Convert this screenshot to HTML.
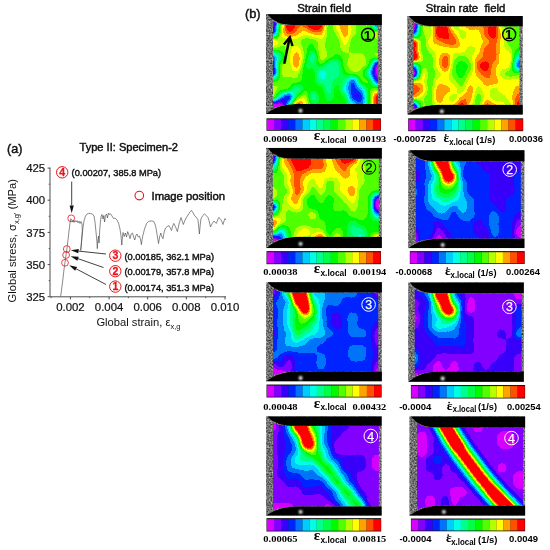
<!DOCTYPE html>
<html><head><meta charset="utf-8"><title>Figure</title>
<style>
html,body{margin:0;padding:0;background:#fff;}
body{width:550px;height:550px;overflow:hidden;}
svg{display:block;}
text{font-family:"Liberation Sans",sans-serif;}
.ser{font-family:"Liberation Serif",serif;font-weight:bold;}
.sb{stroke:#111;stroke-width:0.45px;}
.sb2{stroke:#111;stroke-width:0.4px;}
.sb3{stroke:#111;stroke-width:0.2px;}
</style></head><body>
<svg width="550" height="550" viewBox="0 0 550 550">
<defs>
<filter id="cm" x="-10%" y="-10%" width="120%" height="120%" color-interpolation-filters="sRGB">
<feGaussianBlur stdDeviation="3.2"/>
<feComponentTransfer>
<feFuncR type="discrete" tableValues="0.847 0.847 0.847 0.847 0.847 0.51 0.22 0 0 0 0 0 0 0 0.314 0.706 1 1 1 1 1 1 1 1"/>
<feFuncG type="discrete" tableValues="0 0 0 0 0 0 0 0.141 0.455 0.8 1 1 1 0.98 1 1 1 0.635 0.314 0 0 0 0 0"/>
<feFuncB type="discrete" tableValues="1 1 1 1 1 1 0.98 1 0.98 1 0.894 0.549 0.275 0 0 0 0 0 0 0 0 0 0 0"/>
<feFuncA type="linear" slope="0" intercept="1"/>
</feComponentTransfer>
<feGaussianBlur stdDeviation="0.45"/>
</filter><filter id="cm4R" x="-10%" y="-10%" width="120%" height="120%" color-interpolation-filters="sRGB">
<feGaussianBlur stdDeviation="2.6"/>
<feComponentTransfer>
<feFuncR type="discrete" tableValues="0.847 0.847 0.847 0.847 0.847 0.51 0.22 0 0 0 0 0 0 0 0.314 0.706 1 1 1 1 1 1 1 1"/>
<feFuncG type="discrete" tableValues="0 0 0 0 0 0 0 0.141 0.455 0.8 1 1 1 0.98 1 1 1 0.635 0.314 0 0 0 0 0"/>
<feFuncB type="discrete" tableValues="1 1 1 1 1 1 0.98 1 0.98 1 0.894 0.549 0.275 0 0 0 0 0 0 0 0 0 0 0"/>
<feFuncA type="linear" slope="0" intercept="1"/>
</feComponentTransfer>
<feGaussianBlur stdDeviation="0.45"/>
</filter>
<filter id="spk" x="0" y="0" width="100%" height="100%" color-interpolation-filters="sRGB">
<feTurbulence type="fractalNoise" baseFrequency="0.62" numOctaves="2" seed="7" result="n"/>
<feColorMatrix in="n" type="matrix" values="0.85 0 0 0 0.02  0.85 0 0 0 0.02  0.85 0 0 0 0.02  0 0 0 0 1"/>
<feComposite operator="in" in2="SourceGraphic"/>
</filter>
<filter id="b1" x="-100%" y="-100%" width="300%" height="300%"><feGaussianBlur stdDeviation="1.0"/></filter>
<clipPath id="fclip"><path d="M7.2,7 C10,8.2 14,9.6 20,10.5 C24,11 28,11.1 32,11.2 L111.4,11.2 L111.4,89.6 L30,89.6 C24,89.8 19,90.4 15,91.2 C12,91.8 9,92.7 7.2,93.4 Z"/></clipPath>
</defs>
<rect width="550" height="550" fill="#fff"/>

<rect x="266.0" y="14.2" width="115.8" height="99.7" fill="#808080" filter="url(#spk)"/>
<path d="M267.5,14.2 C269.0,16.0 271.0,18.1 273.0,19.6 C275.0,20.9 277.0,22.0 279.0,22.8 C283.0,24.2 288.0,24.8 294.0,25.0 L381.8,25.0 L381.8,14.2 Z" fill="#000"/>
<path d="M266.0,113.9 C268.0,112.6 270.5,111.0 273.0,109.6 C278.0,107.0 285.0,104.6 295.0,104.1 L381.8,104.1 L381.8,113.9 Z" fill="#000"/>
<clipPath id="fc1L"><path d="M273.0,21.2 C276.0,22.7 279.0,24.0 282.0,24.7 C286.0,25.3 291.0,25.3 296.0,25.3 L377.8,25.3 L377.8,103.9 L296.0,103.9 C288.0,104.1 279.0,105.7 273.0,108.0 Z"/></clipPath>
<g clip-path="url(#fc1L)"><g filter="url(#cm)"><rect x="261" y="13" width="17" height="9" fill="#2e2e2e"/><rect x="277" y="13" width="9" height="9" fill="#9c9c9c"/><rect x="285" y="13" width="9" height="9" fill="#e8e8e8"/><rect x="293" y="13" width="9" height="9" fill="#c1c1c1"/><rect x="301" y="13" width="9" height="9" fill="#c4c4c4"/><rect x="309" y="13" width="9" height="9" fill="#e2e2e2"/><rect x="317" y="13" width="9" height="9" fill="#d9d9d9"/><rect x="325" y="13" width="9" height="9" fill="#8e8e8e"/><rect x="333" y="13" width="9" height="9" fill="#b3b3b3"/><rect x="341" y="13" width="9" height="9" fill="#bebebe"/><rect x="349" y="13" width="9" height="9" fill="#a3a3a3"/><rect x="357" y="13" width="9" height="9" fill="#979797"/><rect x="365" y="13" width="9" height="9" fill="#a8a8a8"/><rect x="373" y="13" width="17" height="9" fill="#383838"/><rect x="261" y="21" width="17" height="9" fill="#2e2e2e"/><rect x="277" y="21" width="9" height="9" fill="#9c9c9c"/><rect x="285" y="21" width="9" height="9" fill="#e8e8e8"/><rect x="293" y="21" width="9" height="9" fill="#c1c1c1"/><rect x="301" y="21" width="9" height="9" fill="#c4c4c4"/><rect x="309" y="21" width="9" height="9" fill="#e2e2e2"/><rect x="317" y="21" width="9" height="9" fill="#d9d9d9"/><rect x="325" y="21" width="9" height="9" fill="#8e8e8e"/><rect x="333" y="21" width="9" height="9" fill="#b3b3b3"/><rect x="341" y="21" width="9" height="9" fill="#bebebe"/><rect x="349" y="21" width="9" height="9" fill="#a3a3a3"/><rect x="357" y="21" width="9" height="9" fill="#979797"/><rect x="365" y="21" width="9" height="9" fill="#a8a8a8"/><rect x="373" y="21" width="17" height="9" fill="#383838"/><rect x="261" y="29" width="17" height="9" fill="#373737"/><rect x="277" y="29" width="9" height="9" fill="#b0b0b0"/><rect x="285" y="29" width="9" height="9" fill="#cbcbcb"/><rect x="293" y="29" width="9" height="9" fill="#bcbcbc"/><rect x="301" y="29" width="9" height="9" fill="#acacac"/><rect x="309" y="29" width="9" height="9" fill="#bbbbbb"/><rect x="317" y="29" width="9" height="9" fill="#bfbfbf"/><rect x="325" y="29" width="9" height="9" fill="#949494"/><rect x="333" y="29" width="9" height="9" fill="#a3a3a3"/><rect x="341" y="29" width="9" height="9" fill="#c2c2c2"/><rect x="349" y="29" width="9" height="9" fill="#a4a4a4"/><rect x="357" y="29" width="9" height="9" fill="#999999"/><rect x="365" y="29" width="9" height="9" fill="#969696"/><rect x="373" y="29" width="17" height="9" fill="#b7b7b7"/><rect x="261" y="37" width="17" height="9" fill="#c3c3c3"/><rect x="277" y="37" width="9" height="9" fill="#a2a2a2"/><rect x="285" y="37" width="9" height="9" fill="#a0a0a0"/><rect x="293" y="37" width="9" height="9" fill="#a2a2a2"/><rect x="301" y="37" width="9" height="9" fill="#969696"/><rect x="309" y="37" width="9" height="9" fill="#959595"/><rect x="317" y="37" width="9" height="9" fill="#a5a5a5"/><rect x="325" y="37" width="9" height="9" fill="#9a9a9a"/><rect x="333" y="37" width="9" height="9" fill="#949494"/><rect x="341" y="37" width="9" height="9" fill="#b6b6b6"/><rect x="349" y="37" width="9" height="9" fill="#949494"/><rect x="357" y="37" width="9" height="9" fill="#9b9b9b"/><rect x="365" y="37" width="9" height="9" fill="#9a9a9a"/><rect x="373" y="37" width="17" height="9" fill="#969696"/><rect x="261" y="45" width="17" height="9" fill="#9f9f9f"/><rect x="277" y="45" width="9" height="9" fill="#9b9b9b"/><rect x="285" y="45" width="9" height="9" fill="#a5a5a5"/><rect x="293" y="45" width="9" height="9" fill="#b4b4b4"/><rect x="301" y="45" width="9" height="9" fill="#989898"/><rect x="309" y="45" width="9" height="9" fill="#8e8e8e"/><rect x="317" y="45" width="9" height="9" fill="#aaaaaa"/><rect x="325" y="45" width="9" height="9" fill="#979797"/><rect x="333" y="45" width="9" height="9" fill="#9a9a9a"/><rect x="341" y="45" width="9" height="9" fill="#a8a8a8"/><rect x="349" y="45" width="9" height="9" fill="#979797"/><rect x="357" y="45" width="9" height="9" fill="#989898"/><rect x="365" y="45" width="9" height="9" fill="#9a9a9a"/><rect x="373" y="45" width="17" height="9" fill="#989898"/><rect x="261" y="53" width="17" height="9" fill="#4d4d4d"/><rect x="277" y="53" width="9" height="9" fill="#808080"/><rect x="285" y="53" width="9" height="9" fill="#a6a6a6"/><rect x="293" y="53" width="9" height="9" fill="#c2c2c2"/><rect x="301" y="53" width="9" height="9" fill="#9d9d9d"/><rect x="309" y="53" width="9" height="9" fill="#686868"/><rect x="317" y="53" width="9" height="9" fill="#b1b1b1"/><rect x="325" y="53" width="9" height="9" fill="#9f9f9f"/><rect x="333" y="53" width="9" height="9" fill="#8e8e8e"/><rect x="341" y="53" width="9" height="9" fill="#989898"/><rect x="349" y="53" width="17" height="9" fill="#a8a8a8"/><rect x="365" y="53" width="9" height="9" fill="#979797"/><rect x="373" y="53" width="17" height="9" fill="#ababab"/><rect x="261" y="61" width="17" height="9" fill="#484848"/><rect x="277" y="61" width="9" height="9" fill="#a9a9a9"/><rect x="285" y="61" width="9" height="9" fill="#9f9f9f"/><rect x="293" y="61" width="9" height="9" fill="#c8c8c8"/><rect x="301" y="61" width="9" height="9" fill="#878787"/><rect x="309" y="61" width="9" height="9" fill="#828282"/><rect x="317" y="61" width="9" height="9" fill="#989898"/><rect x="325" y="61" width="9" height="9" fill="#717171"/><rect x="333" y="61" width="9" height="9" fill="#737373"/><rect x="341" y="61" width="9" height="9" fill="#a0a0a0"/><rect x="349" y="61" width="9" height="9" fill="#a5a5a5"/><rect x="357" y="61" width="9" height="9" fill="#a7a7a7"/><rect x="365" y="61" width="9" height="9" fill="#a0a0a0"/><rect x="373" y="61" width="17" height="9" fill="#202020"/><rect x="261" y="69" width="17" height="9" fill="#2b2b2b"/><rect x="277" y="69" width="9" height="9" fill="#a7a7a7"/><rect x="285" y="69" width="9" height="9" fill="#a6a6a6"/><rect x="293" y="69" width="9" height="9" fill="#a5a5a5"/><rect x="301" y="69" width="9" height="9" fill="#8c8c8c"/><rect x="309" y="69" width="9" height="9" fill="#989898"/><rect x="317" y="69" width="9" height="9" fill="#616161"/><rect x="325" y="69" width="9" height="9" fill="#7f7f7f"/><rect x="333" y="69" width="9" height="9" fill="#757575"/><rect x="341" y="69" width="9" height="9" fill="#929292"/><rect x="349" y="69" width="9" height="9" fill="#a5a5a5"/><rect x="357" y="69" width="9" height="9" fill="#9e9e9e"/><rect x="365" y="69" width="9" height="9" fill="#676767"/><rect x="373" y="69" width="17" height="9" fill="#262626"/><rect x="261" y="77" width="17" height="9" fill="#989898"/><rect x="277" y="77" width="9" height="9" fill="#9a9a9a"/><rect x="285" y="77" width="9" height="9" fill="#979797"/><rect x="293" y="77" width="9" height="9" fill="#a1a1a1"/><rect x="301" y="77" width="9" height="9" fill="#8d8d8d"/><rect x="309" y="77" width="9" height="9" fill="#929292"/><rect x="317" y="77" width="9" height="9" fill="#767676"/><rect x="325" y="77" width="9" height="9" fill="#797979"/><rect x="333" y="77" width="9" height="9" fill="#878787"/><rect x="341" y="77" width="9" height="9" fill="#7f7f7f"/><rect x="349" y="77" width="9" height="9" fill="#424242"/><rect x="357" y="77" width="9" height="9" fill="#9e9e9e"/><rect x="365" y="77" width="9" height="9" fill="#9f9f9f"/><rect x="373" y="77" width="17" height="9" fill="#404040"/><rect x="261" y="85" width="17" height="9" fill="#a6a6a6"/><rect x="277" y="85" width="9" height="9" fill="#a1a1a1"/><rect x="285" y="85" width="9" height="9" fill="#9e9e9e"/><rect x="293" y="85" width="9" height="9" fill="#696969"/><rect x="301" y="85" width="9" height="9" fill="#909090"/><rect x="309" y="85" width="9" height="9" fill="#939393"/><rect x="317" y="85" width="9" height="9" fill="#979797"/><rect x="325" y="85" width="9" height="9" fill="#707070"/><rect x="333" y="85" width="9" height="9" fill="#9b9b9b"/><rect x="341" y="85" width="9" height="9" fill="#696969"/><rect x="349" y="85" width="9" height="9" fill="#4b4b4b"/><rect x="357" y="85" width="9" height="9" fill="#5f5f5f"/><rect x="365" y="85" width="9" height="9" fill="#939393"/><rect x="373" y="85" width="17" height="9" fill="#9e9e9e"/><rect x="261" y="93" width="17" height="9" fill="#b1b1b1"/><rect x="277" y="93" width="9" height="9" fill="#616161"/><rect x="285" y="93" width="9" height="9" fill="#323232"/><rect x="293" y="93" width="9" height="9" fill="#929292"/><rect x="301" y="93" width="9" height="9" fill="#b2b2b2"/><rect x="309" y="93" width="9" height="9" fill="#676767"/><rect x="317" y="93" width="9" height="9" fill="#969696"/><rect x="325" y="93" width="9" height="9" fill="#818181"/><rect x="333" y="93" width="9" height="9" fill="#919191"/><rect x="341" y="93" width="9" height="9" fill="#8e8e8e"/><rect x="349" y="93" width="9" height="9" fill="#434343"/><rect x="357" y="93" width="9" height="9" fill="#444444"/><rect x="365" y="93" width="9" height="9" fill="#8f8f8f"/><rect x="373" y="93" width="17" height="9" fill="#dedede"/><rect x="261" y="101" width="17" height="9" fill="#222222"/><rect x="277" y="101" width="9" height="9" fill="#212121"/><rect x="285" y="101" width="9" height="9" fill="#737373"/><rect x="293" y="101" width="9" height="9" fill="#dbdbdb"/><rect x="301" y="101" width="9" height="9" fill="#afafaf"/><rect x="309" y="101" width="17" height="9" fill="#8f8f8f"/><rect x="325" y="101" width="9" height="9" fill="#919191"/><rect x="333" y="101" width="9" height="9" fill="#8f8f8f"/><rect x="341" y="101" width="9" height="9" fill="#959595"/><rect x="349" y="101" width="9" height="9" fill="#747474"/><rect x="357" y="101" width="9" height="9" fill="#525252"/><rect x="365" y="101" width="9" height="9" fill="#8e8e8e"/><rect x="373" y="101" width="17" height="9" fill="#d6d6d6"/><rect x="261" y="109" width="17" height="9" fill="#222222"/><rect x="277" y="109" width="9" height="9" fill="#212121"/><rect x="285" y="109" width="9" height="9" fill="#737373"/><rect x="293" y="109" width="9" height="9" fill="#dbdbdb"/><rect x="301" y="109" width="9" height="9" fill="#afafaf"/><rect x="309" y="109" width="17" height="9" fill="#8f8f8f"/><rect x="325" y="109" width="9" height="9" fill="#919191"/><rect x="333" y="109" width="9" height="9" fill="#8f8f8f"/><rect x="341" y="109" width="9" height="9" fill="#959595"/><rect x="349" y="109" width="9" height="9" fill="#747474"/><rect x="357" y="109" width="9" height="9" fill="#525252"/><rect x="365" y="109" width="9" height="9" fill="#8e8e8e"/><rect x="373" y="109" width="17" height="9" fill="#d6d6d6"/></g></g>
<circle cx="300.5" cy="110.7" r="1.9" fill="#fff" filter="url(#b1)"/>
<circle cx="368.0" cy="34.8" r="6.5" fill="none" stroke="#000" stroke-width="1.4"/>
<text x="367.5" y="39.6" font-size="13.6" font-weight="bold" text-anchor="middle" fill="#000">1</text>
<rect x="266.5" y="118.3" width="114.5" height="12.5" fill="#181818"/>
<rect x="266.90" y="119.4" width="7.16" height="10.6" fill="#d800ff"/>
<rect x="274.01" y="119.4" width="7.16" height="10.6" fill="#8200ff"/>
<rect x="281.11" y="119.4" width="7.16" height="10.6" fill="#3800fa"/>
<rect x="288.22" y="119.4" width="7.16" height="10.6" fill="#0024ff"/>
<rect x="295.32" y="119.4" width="7.16" height="10.6" fill="#0074fa"/>
<rect x="302.43" y="119.4" width="7.16" height="10.6" fill="#00ccff"/>
<rect x="309.54" y="119.4" width="7.16" height="10.6" fill="#00ffe4"/>
<rect x="316.64" y="119.4" width="7.16" height="10.6" fill="#00ff8c"/>
<rect x="323.75" y="119.4" width="7.16" height="10.6" fill="#00ff46"/>
<rect x="330.86" y="119.4" width="7.16" height="10.6" fill="#00fa00"/>
<rect x="337.96" y="119.4" width="7.16" height="10.6" fill="#50ff00"/>
<rect x="345.07" y="119.4" width="7.16" height="10.6" fill="#b4ff00"/>
<rect x="352.17" y="119.4" width="7.16" height="10.6" fill="#ffff00"/>
<rect x="359.28" y="119.4" width="7.16" height="10.6" fill="#ffa200"/>
<rect x="366.39" y="119.4" width="7.16" height="10.6" fill="#ff5000"/>
<rect x="373.49" y="119.4" width="7.16" height="10.6" fill="#ff0000"/>
<rect x="407.3" y="16.1" width="115.4" height="98.4" fill="#808080" filter="url(#spk)"/>
<path d="M408.8,16.1 C410.3,17.9 412.3,19.8 414.3,21.2 C416.3,22.4 418.3,23.4 420.3,24.3 C424.3,25.6 429.3,26.1 435.3,26.3 L522.7,26.3 L522.7,16.1 Z" fill="#000"/>
<path d="M407.3,114.5 C409.3,113.3 411.8,111.6 414.3,110.3 C419.3,107.8 426.3,105.4 436.3,104.9 L522.7,104.9 L522.7,114.5 Z" fill="#000"/>
<clipPath id="fc1R"><path d="M413.6,22.8 C416.6,24.2 419.6,25.4 422.6,26.1 C426.6,26.6 431.6,26.6 437.3,26.6 L519.5,26.6 L519.5,104.7 L437.3,104.7 C429.3,104.9 420.3,106.4 413.6,108.7 Z"/></clipPath>
<g clip-path="url(#fc1R)"><g filter="url(#cm)"><rect x="402" y="14" width="17" height="9" fill="#1d1d1d"/><rect x="418" y="14" width="9" height="9" fill="#aaaaaa"/><rect x="426" y="14" width="9" height="9" fill="#9e9e9e"/><rect x="434" y="14" width="9" height="9" fill="#d4d4d4"/><rect x="442" y="14" width="9" height="9" fill="#d6d6d6"/><rect x="450" y="14" width="9" height="9" fill="#999999"/><rect x="458" y="14" width="9" height="9" fill="#b3b3b3"/><rect x="466" y="14" width="9" height="9" fill="#bdbdbd"/><rect x="474" y="14" width="9" height="9" fill="#bababa"/><rect x="482" y="14" width="9" height="9" fill="#c3c3c3"/><rect x="490" y="14" width="9" height="9" fill="#d7d7d7"/><rect x="498" y="14" width="9" height="9" fill="#9e9e9e"/><rect x="506" y="14" width="9" height="9" fill="#9a9a9a"/><rect x="514" y="14" width="17" height="9" fill="#9a9a9a"/><rect x="402" y="22" width="17" height="9" fill="#1d1d1d"/><rect x="418" y="22" width="9" height="9" fill="#aaaaaa"/><rect x="426" y="22" width="9" height="9" fill="#9e9e9e"/><rect x="434" y="22" width="9" height="9" fill="#d4d4d4"/><rect x="442" y="22" width="9" height="9" fill="#d6d6d6"/><rect x="450" y="22" width="9" height="9" fill="#999999"/><rect x="458" y="22" width="9" height="9" fill="#b3b3b3"/><rect x="466" y="22" width="9" height="9" fill="#bdbdbd"/><rect x="474" y="22" width="9" height="9" fill="#bababa"/><rect x="482" y="22" width="9" height="9" fill="#c3c3c3"/><rect x="490" y="22" width="9" height="9" fill="#d7d7d7"/><rect x="498" y="22" width="9" height="9" fill="#9e9e9e"/><rect x="506" y="22" width="9" height="9" fill="#9a9a9a"/><rect x="514" y="22" width="17" height="9" fill="#9a9a9a"/><rect x="402" y="30" width="17" height="9" fill="#444444"/><rect x="418" y="30" width="9" height="9" fill="#a5a5a5"/><rect x="426" y="30" width="9" height="9" fill="#9b9b9b"/><rect x="434" y="30" width="9" height="9" fill="#dadada"/><rect x="442" y="30" width="9" height="9" fill="#d2d2d2"/><rect x="450" y="30" width="9" height="9" fill="#bcbcbc"/><rect x="458" y="30" width="9" height="9" fill="#9c9c9c"/><rect x="466" y="30" width="9" height="9" fill="#b0b0b0"/><rect x="474" y="30" width="9" height="9" fill="#aaaaaa"/><rect x="482" y="30" width="9" height="9" fill="#c8c8c8"/><rect x="490" y="30" width="9" height="9" fill="#d7d7d7"/><rect x="498" y="30" width="9" height="9" fill="#afafaf"/><rect x="506" y="30" width="9" height="9" fill="#979797"/><rect x="514" y="30" width="17" height="9" fill="#9a9a9a"/><rect x="402" y="38" width="17" height="9" fill="#ebebeb"/><rect x="418" y="38" width="9" height="9" fill="#8c8c8c"/><rect x="426" y="38" width="9" height="9" fill="#b7b7b7"/><rect x="434" y="38" width="9" height="9" fill="#b6b6b6"/><rect x="442" y="38" width="9" height="9" fill="#c8c8c8"/><rect x="450" y="38" width="9" height="9" fill="#cdcdcd"/><rect x="458" y="38" width="9" height="9" fill="#adadad"/><rect x="466" y="38" width="9" height="9" fill="#b2b2b2"/><rect x="474" y="38" width="9" height="9" fill="#afafaf"/><rect x="482" y="38" width="9" height="9" fill="#b5b5b5"/><rect x="490" y="38" width="9" height="9" fill="#c7c7c7"/><rect x="498" y="38" width="9" height="9" fill="#afafaf"/><rect x="506" y="38" width="9" height="9" fill="#959595"/><rect x="514" y="38" width="17" height="9" fill="#9c9c9c"/><rect x="402" y="46" width="17" height="9" fill="#d0d0d0"/><rect x="418" y="46" width="9" height="9" fill="#8f8f8f"/><rect x="426" y="46" width="9" height="9" fill="#a6a6a6"/><rect x="434" y="46" width="9" height="9" fill="#b0b0b0"/><rect x="442" y="46" width="9" height="9" fill="#a7a7a7"/><rect x="450" y="46" width="9" height="9" fill="#adadad"/><rect x="458" y="46" width="9" height="9" fill="#b5b5b5"/><rect x="466" y="46" width="9" height="9" fill="#9f9f9f"/><rect x="474" y="46" width="9" height="9" fill="#acacac"/><rect x="482" y="46" width="9" height="9" fill="#cacaca"/><rect x="490" y="46" width="9" height="9" fill="#c7c7c7"/><rect x="498" y="46" width="9" height="9" fill="#adadad"/><rect x="506" y="46" width="9" height="9" fill="#a6a6a6"/><rect x="514" y="46" width="17" height="9" fill="#909090"/><rect x="402" y="54" width="17" height="9" fill="#f6f6f6"/><rect x="418" y="54" width="9" height="9" fill="#a0a0a0"/><rect x="426" y="54" width="9" height="9" fill="#959595"/><rect x="434" y="54" width="9" height="9" fill="#aeaeae"/><rect x="442" y="54" width="9" height="9" fill="#d0d0d0"/><rect x="450" y="54" width="9" height="9" fill="#a1a1a1"/><rect x="458" y="54" width="9" height="9" fill="#959595"/><rect x="466" y="54" width="9" height="9" fill="#a6a6a6"/><rect x="474" y="54" width="9" height="9" fill="#bbbbbb"/><rect x="482" y="54" width="9" height="9" fill="#c2c2c2"/><rect x="490" y="54" width="9" height="9" fill="#cbcbcb"/><rect x="498" y="54" width="9" height="9" fill="#a9a9a9"/><rect x="506" y="54" width="9" height="9" fill="#bdbdbd"/><rect x="514" y="54" width="17" height="9" fill="#666666"/><rect x="402" y="62" width="17" height="9" fill="#555555"/><rect x="418" y="62" width="9" height="9" fill="#9f9f9f"/><rect x="426" y="62" width="9" height="9" fill="#979797"/><rect x="434" y="62" width="9" height="9" fill="#b0b0b0"/><rect x="442" y="62" width="9" height="9" fill="#d1d1d1"/><rect x="450" y="62" width="9" height="9" fill="#939393"/><rect x="458" y="62" width="9" height="9" fill="#8e8e8e"/><rect x="466" y="62" width="9" height="9" fill="#919191"/><rect x="474" y="62" width="9" height="9" fill="#cdcdcd"/><rect x="482" y="62" width="9" height="9" fill="#d7d7d7"/><rect x="490" y="62" width="9" height="9" fill="#b5b5b5"/><rect x="498" y="62" width="17" height="9" fill="#b1b1b1"/><rect x="514" y="62" width="17" height="9" fill="#424242"/><rect x="402" y="70" width="17" height="9" fill="#050505"/><rect x="418" y="70" width="9" height="9" fill="#bdbdbd"/><rect x="426" y="70" width="9" height="9" fill="#949494"/><rect x="434" y="70" width="9" height="9" fill="#a1a1a1"/><rect x="442" y="70" width="9" height="9" fill="#b1b1b1"/><rect x="450" y="70" width="9" height="9" fill="#989898"/><rect x="458" y="70" width="9" height="9" fill="#8a8a8a"/><rect x="466" y="70" width="9" height="9" fill="#a6a6a6"/><rect x="474" y="70" width="9" height="9" fill="#bababa"/><rect x="482" y="70" width="9" height="9" fill="#c7c7c7"/><rect x="490" y="70" width="9" height="9" fill="#bbbbbb"/><rect x="498" y="70" width="9" height="9" fill="#a0a0a0"/><rect x="506" y="70" width="9" height="9" fill="#929292"/><rect x="514" y="70" width="17" height="9" fill="#a3a3a3"/><rect x="402" y="78" width="17" height="9" fill="#c3c3c3"/><rect x="418" y="78" width="9" height="9" fill="#b0b0b0"/><rect x="426" y="78" width="9" height="9" fill="#949494"/><rect x="434" y="78" width="9" height="9" fill="#b3b3b3"/><rect x="442" y="78" width="9" height="9" fill="#aeaeae"/><rect x="450" y="78" width="9" height="9" fill="#a5a5a5"/><rect x="458" y="78" width="9" height="9" fill="#969696"/><rect x="466" y="78" width="9" height="9" fill="#b3b3b3"/><rect x="474" y="78" width="9" height="9" fill="#adadad"/><rect x="482" y="78" width="9" height="9" fill="#bbbbbb"/><rect x="490" y="78" width="9" height="9" fill="#bfbfbf"/><rect x="498" y="78" width="9" height="9" fill="#afafaf"/><rect x="506" y="78" width="9" height="9" fill="#b4b4b4"/><rect x="514" y="78" width="17" height="9" fill="#afafaf"/><rect x="402" y="86" width="17" height="9" fill="#c6c6c6"/><rect x="418" y="86" width="9" height="9" fill="#c4c4c4"/><rect x="426" y="86" width="9" height="9" fill="#8f8f8f"/><rect x="434" y="86" width="9" height="9" fill="#c1c1c1"/><rect x="442" y="86" width="9" height="9" fill="#bebebe"/><rect x="450" y="86" width="9" height="9" fill="#b4b4b4"/><rect x="458" y="86" width="9" height="9" fill="#9d9d9d"/><rect x="466" y="86" width="9" height="9" fill="#c3c3c3"/><rect x="474" y="86" width="9" height="9" fill="#9f9f9f"/><rect x="482" y="86" width="9" height="9" fill="#b3b3b3"/><rect x="490" y="86" width="9" height="9" fill="#9d9d9d"/><rect x="498" y="86" width="9" height="9" fill="#b4b4b4"/><rect x="506" y="86" width="9" height="9" fill="#acacac"/><rect x="514" y="86" width="17" height="9" fill="#bcbcbc"/><rect x="402" y="94" width="17" height="9" fill="#c1c1c1"/><rect x="418" y="94" width="9" height="9" fill="#a1a1a1"/><rect x="426" y="94" width="9" height="9" fill="#949494"/><rect x="434" y="94" width="9" height="9" fill="#c3c3c3"/><rect x="442" y="94" width="9" height="9" fill="#adadad"/><rect x="450" y="94" width="9" height="9" fill="#9a9a9a"/><rect x="458" y="94" width="9" height="9" fill="#bdbdbd"/><rect x="466" y="94" width="9" height="9" fill="#c1c1c1"/><rect x="474" y="94" width="9" height="9" fill="#909090"/><rect x="482" y="94" width="9" height="9" fill="#b2b2b2"/><rect x="490" y="94" width="9" height="9" fill="#a0a0a0"/><rect x="498" y="94" width="9" height="9" fill="#a0a0a0"/><rect x="506" y="94" width="9" height="9" fill="#b0b0b0"/><rect x="514" y="94" width="17" height="9" fill="#c7c7c7"/><rect x="402" y="102" width="17" height="9" fill="#1c1c1c"/><rect x="418" y="102" width="9" height="9" fill="#aaaaaa"/><rect x="426" y="102" width="9" height="9" fill="#959595"/><rect x="434" y="102" width="9" height="9" fill="#b1b1b1"/><rect x="442" y="102" width="9" height="9" fill="#aeaeae"/><rect x="450" y="102" width="9" height="9" fill="#bbbbbb"/><rect x="458" y="102" width="9" height="9" fill="#dadada"/><rect x="466" y="102" width="9" height="9" fill="#acacac"/><rect x="474" y="102" width="9" height="9" fill="#919191"/><rect x="482" y="102" width="9" height="9" fill="#d0d0d0"/><rect x="490" y="102" width="9" height="9" fill="#bcbcbc"/><rect x="498" y="102" width="9" height="9" fill="#b3b3b3"/><rect x="506" y="102" width="9" height="9" fill="#9a9a9a"/><rect x="514" y="102" width="17" height="9" fill="#d7d7d7"/><rect x="402" y="110" width="17" height="9" fill="#1c1c1c"/><rect x="418" y="110" width="9" height="9" fill="#aaaaaa"/><rect x="426" y="110" width="9" height="9" fill="#959595"/><rect x="434" y="110" width="9" height="9" fill="#b1b1b1"/><rect x="442" y="110" width="9" height="9" fill="#aeaeae"/><rect x="450" y="110" width="9" height="9" fill="#bbbbbb"/><rect x="458" y="110" width="9" height="9" fill="#dadada"/><rect x="466" y="110" width="9" height="9" fill="#acacac"/><rect x="474" y="110" width="9" height="9" fill="#919191"/><rect x="482" y="110" width="9" height="9" fill="#d0d0d0"/><rect x="490" y="110" width="9" height="9" fill="#bcbcbc"/><rect x="498" y="110" width="9" height="9" fill="#b3b3b3"/><rect x="506" y="110" width="9" height="9" fill="#9a9a9a"/><rect x="514" y="110" width="17" height="9" fill="#d7d7d7"/></g></g>
<circle cx="441.8" cy="111.3" r="1.9" fill="#fff" filter="url(#b1)"/>
<circle cx="509.2" cy="34.4" r="6.5" fill="none" stroke="#000" stroke-width="1.4"/>
<text x="508.7" y="39.2" font-size="13.6" font-weight="bold" text-anchor="middle" fill="#000">1</text>
<rect x="408.2" y="118.3" width="115.0" height="12.9" fill="#181818"/>
<rect x="408.60" y="119.4" width="7.19" height="11.0" fill="#d800ff"/>
<rect x="415.74" y="119.4" width="7.19" height="11.0" fill="#8200ff"/>
<rect x="422.88" y="119.4" width="7.19" height="11.0" fill="#3800fa"/>
<rect x="430.01" y="119.4" width="7.19" height="11.0" fill="#0024ff"/>
<rect x="437.15" y="119.4" width="7.19" height="11.0" fill="#0074fa"/>
<rect x="444.29" y="119.4" width="7.19" height="11.0" fill="#00ccff"/>
<rect x="451.43" y="119.4" width="7.19" height="11.0" fill="#00ffe4"/>
<rect x="458.56" y="119.4" width="7.19" height="11.0" fill="#00ff8c"/>
<rect x="465.70" y="119.4" width="7.19" height="11.0" fill="#00ff46"/>
<rect x="472.84" y="119.4" width="7.19" height="11.0" fill="#00fa00"/>
<rect x="479.98" y="119.4" width="7.19" height="11.0" fill="#50ff00"/>
<rect x="487.11" y="119.4" width="7.19" height="11.0" fill="#b4ff00"/>
<rect x="494.25" y="119.4" width="7.19" height="11.0" fill="#ffff00"/>
<rect x="501.39" y="119.4" width="7.19" height="11.0" fill="#ffa200"/>
<rect x="508.53" y="119.4" width="7.19" height="11.0" fill="#ff5000"/>
<rect x="515.66" y="119.4" width="7.19" height="11.0" fill="#ff0000"/>
<text class="ser" x="263.3" y="141.9" font-size="9" textLength="34.3" lengthAdjust="spacingAndGlyphs">0.00069</text>
<text class="ser" x="352.5" y="141.9" font-size="9" textLength="33.8" lengthAdjust="spacingAndGlyphs">0.00193</text>
<text x="313.8" y="140.0" font-size="14.3" font-weight="bold" style="font-family:'Liberation Serif',serif" textLength="6.5" lengthAdjust="spacingAndGlyphs">ε</text>
<text x="320.4" y="142.7" font-size="9.3" font-weight="bold" textLength="26.2" lengthAdjust="spacingAndGlyphs">x.local</text>
<text x="393.4" y="142.2" font-size="9.3" font-weight="bold" textLength="42.6" lengthAdjust="spacingAndGlyphs">-0.000725</text>
<text x="509.0" y="142.2" font-size="9.3" font-weight="bold" textLength="34.0" lengthAdjust="spacingAndGlyphs">0.00036</text>
<text x="443.5" y="142.1" font-size="12" font-weight="bold" style="font-family:'Liberation Serif',serif" textLength="5.8" lengthAdjust="spacingAndGlyphs">ε</text>
<circle cx="445.8" cy="134.9" r="0.85" fill="#000"/>
<text x="449.2" y="144.6" font-size="9.3" font-weight="bold" textLength="24.1" lengthAdjust="spacingAndGlyphs">x.local</text>
<text x="476.0" y="142.5" font-size="9.8" font-weight="bold" textLength="19.4" lengthAdjust="spacingAndGlyphs">(1/s)</text>
<rect x="266.1" y="147.9" width="115.7" height="100.2" fill="#808080" filter="url(#spk)"/>
<path d="M267.6,147.9 C269.1,149.7 271.1,151.8 273.1,153.2 C275.1,154.5 277.1,155.6 279.1,156.5 C283.1,157.9 288.1,158.4 294.1,158.6 L381.8,158.6 L381.8,147.9 Z" fill="#000"/>
<path d="M266.1,248.1 C268.1,246.6 270.6,244.7 273.1,243.2 C278.1,240.3 285.1,237.5 295.1,236.9 L381.8,236.9 L381.8,248.1 Z" fill="#000"/>
<clipPath id="fc2L"><path d="M272.9,154.8 C275.9,156.4 278.9,157.6 281.9,158.3 C285.9,158.9 290.9,158.9 296.1,158.9 L378.8,158.9 L378.8,236.7 L296.1,236.7 C288.1,236.9 279.1,238.8 272.9,241.5 Z"/></clipPath>
<g clip-path="url(#fc2L)"><g filter="url(#cm)"><rect x="261" y="147" width="17" height="9" fill="#252525"/><rect x="277" y="147" width="9" height="9" fill="#b1b1b1"/><rect x="285" y="147" width="9" height="9" fill="#c5c5c5"/><rect x="293" y="147" width="9" height="9" fill="#dedede"/><rect x="301" y="147" width="9" height="9" fill="#dedede"/><rect x="309" y="147" width="9" height="9" fill="#c0c0c0"/><rect x="317" y="147" width="9" height="9" fill="#c8c8c8"/><rect x="325" y="147" width="9" height="9" fill="#a9a9a9"/><rect x="333" y="147" width="9" height="9" fill="#c8c8c8"/><rect x="341" y="147" width="9" height="9" fill="#d0d0d0"/><rect x="349" y="147" width="9" height="9" fill="#dbdbdb"/><rect x="357" y="147" width="9" height="9" fill="#9f9f9f"/><rect x="365" y="147" width="9" height="9" fill="#999999"/><rect x="373" y="147" width="17" height="9" fill="#9a9a9a"/><rect x="261" y="155" width="17" height="9" fill="#252525"/><rect x="277" y="155" width="9" height="9" fill="#b1b1b1"/><rect x="285" y="155" width="9" height="9" fill="#c5c5c5"/><rect x="293" y="155" width="9" height="9" fill="#dedede"/><rect x="301" y="155" width="9" height="9" fill="#dedede"/><rect x="309" y="155" width="9" height="9" fill="#c0c0c0"/><rect x="317" y="155" width="9" height="9" fill="#c8c8c8"/><rect x="325" y="155" width="9" height="9" fill="#a9a9a9"/><rect x="333" y="155" width="9" height="9" fill="#c8c8c8"/><rect x="341" y="155" width="9" height="9" fill="#d0d0d0"/><rect x="349" y="155" width="9" height="9" fill="#dbdbdb"/><rect x="357" y="155" width="9" height="9" fill="#9f9f9f"/><rect x="365" y="155" width="9" height="9" fill="#999999"/><rect x="373" y="155" width="17" height="9" fill="#9a9a9a"/><rect x="261" y="163" width="17" height="9" fill="#6a6a6a"/><rect x="277" y="163" width="9" height="9" fill="#acacac"/><rect x="285" y="163" width="9" height="9" fill="#b9b9b9"/><rect x="293" y="163" width="17" height="9" fill="#d2d2d2"/><rect x="309" y="163" width="9" height="9" fill="#c6c6c6"/><rect x="317" y="163" width="9" height="9" fill="#cccccc"/><rect x="325" y="163" width="9" height="9" fill="#a9a9a9"/><rect x="333" y="163" width="9" height="9" fill="#bababa"/><rect x="341" y="163" width="9" height="9" fill="#cacaca"/><rect x="349" y="163" width="9" height="9" fill="#a7a7a7"/><rect x="357" y="163" width="9" height="9" fill="#a6a6a6"/><rect x="365" y="163" width="9" height="9" fill="#989898"/><rect x="373" y="163" width="17" height="9" fill="#9a9a9a"/><rect x="261" y="171" width="17" height="9" fill="#a1a1a1"/><rect x="277" y="171" width="9" height="9" fill="#949494"/><rect x="285" y="171" width="9" height="9" fill="#aeaeae"/><rect x="293" y="171" width="9" height="9" fill="#c8c8c8"/><rect x="301" y="171" width="9" height="9" fill="#b8b8b8"/><rect x="309" y="171" width="9" height="9" fill="#acacac"/><rect x="317" y="171" width="9" height="9" fill="#aaaaaa"/><rect x="325" y="171" width="9" height="9" fill="#b5b5b5"/><rect x="333" y="171" width="9" height="9" fill="#adadad"/><rect x="341" y="171" width="9" height="9" fill="#bdbdbd"/><rect x="349" y="171" width="9" height="9" fill="#b0b0b0"/><rect x="357" y="171" width="9" height="9" fill="#a4a4a4"/><rect x="365" y="171" width="9" height="9" fill="#999999"/><rect x="373" y="171" width="17" height="9" fill="#9a9a9a"/><rect x="261" y="179" width="25" height="9" fill="#989898"/><rect x="285" y="179" width="9" height="9" fill="#b2b2b2"/><rect x="293" y="179" width="9" height="9" fill="#cacaca"/><rect x="301" y="179" width="9" height="9" fill="#ababab"/><rect x="309" y="179" width="9" height="9" fill="#a2a2a2"/><rect x="317" y="179" width="9" height="9" fill="#b8b8b8"/><rect x="325" y="179" width="9" height="9" fill="#909090"/><rect x="333" y="179" width="9" height="9" fill="#a4a4a4"/><rect x="341" y="179" width="9" height="9" fill="#afafaf"/><rect x="349" y="179" width="9" height="9" fill="#aeaeae"/><rect x="357" y="179" width="9" height="9" fill="#a7a7a7"/><rect x="365" y="179" width="9" height="9" fill="#989898"/><rect x="373" y="179" width="17" height="9" fill="#9a9a9a"/><rect x="261" y="187" width="17" height="9" fill="#a8a8a8"/><rect x="277" y="187" width="9" height="9" fill="#989898"/><rect x="285" y="187" width="9" height="9" fill="#9c9c9c"/><rect x="293" y="187" width="9" height="9" fill="#cecece"/><rect x="301" y="187" width="9" height="9" fill="#b3b3b3"/><rect x="309" y="187" width="9" height="9" fill="#959595"/><rect x="317" y="187" width="9" height="9" fill="#a8a8a8"/><rect x="325" y="187" width="9" height="9" fill="#999999"/><rect x="333" y="187" width="9" height="9" fill="#a7a7a7"/><rect x="341" y="187" width="9" height="9" fill="#b0b0b0"/><rect x="349" y="187" width="9" height="9" fill="#c5c5c5"/><rect x="357" y="187" width="9" height="9" fill="#929292"/><rect x="365" y="187" width="9" height="9" fill="#9d9d9d"/><rect x="373" y="187" width="17" height="9" fill="#9b9b9b"/><rect x="261" y="195" width="17" height="9" fill="#a9a9a9"/><rect x="277" y="195" width="9" height="9" fill="#959595"/><rect x="285" y="195" width="9" height="9" fill="#b5b5b5"/><rect x="293" y="195" width="9" height="9" fill="#bfbfbf"/><rect x="301" y="195" width="9" height="9" fill="#939393"/><rect x="309" y="195" width="9" height="9" fill="#8c8c8c"/><rect x="317" y="195" width="9" height="9" fill="#9e9e9e"/><rect x="325" y="195" width="9" height="9" fill="#8a8a8a"/><rect x="333" y="195" width="9" height="9" fill="#989898"/><rect x="341" y="195" width="9" height="9" fill="#a4a4a4"/><rect x="349" y="195" width="9" height="9" fill="#b4b4b4"/><rect x="357" y="195" width="9" height="9" fill="#979797"/><rect x="365" y="195" width="9" height="9" fill="#9b9b9b"/><rect x="373" y="195" width="17" height="9" fill="#232323"/><rect x="261" y="203" width="17" height="9" fill="#1f1f1f"/><rect x="277" y="203" width="9" height="9" fill="#a8a8a8"/><rect x="285" y="203" width="9" height="9" fill="#a2a2a2"/><rect x="293" y="203" width="9" height="9" fill="#b7b7b7"/><rect x="301" y="203" width="9" height="9" fill="#999999"/><rect x="309" y="203" width="9" height="9" fill="#8a8a8a"/><rect x="317" y="203" width="9" height="9" fill="#8f8f8f"/><rect x="325" y="203" width="9" height="9" fill="#8e8e8e"/><rect x="333" y="203" width="9" height="9" fill="#9e9e9e"/><rect x="341" y="203" width="9" height="9" fill="#989898"/><rect x="349" y="203" width="9" height="9" fill="#a8a8a8"/><rect x="357" y="203" width="9" height="9" fill="#979797"/><rect x="365" y="203" width="9" height="9" fill="#9e9e9e"/><rect x="373" y="203" width="17" height="9" fill="#1b1b1b"/><rect x="261" y="211" width="17" height="9" fill="#919191"/><rect x="277" y="211" width="9" height="9" fill="#aaaaaa"/><rect x="285" y="211" width="9" height="9" fill="#969696"/><rect x="293" y="211" width="9" height="9" fill="#979797"/><rect x="301" y="211" width="9" height="9" fill="#989898"/><rect x="309" y="211" width="9" height="9" fill="#b1b1b1"/><rect x="317" y="211" width="9" height="9" fill="#898989"/><rect x="325" y="211" width="9" height="9" fill="#909090"/><rect x="333" y="211" width="9" height="9" fill="#8e8e8e"/><rect x="341" y="211" width="9" height="9" fill="#8c8c8c"/><rect x="349" y="211" width="9" height="9" fill="#9e9e9e"/><rect x="357" y="211" width="9" height="9" fill="#9c9c9c"/><rect x="365" y="211" width="9" height="9" fill="#949494"/><rect x="373" y="211" width="17" height="9" fill="#616161"/><rect x="261" y="219" width="17" height="9" fill="#d4d4d4"/><rect x="277" y="219" width="9" height="9" fill="#a9a9a9"/><rect x="285" y="219" width="9" height="9" fill="#9a9a9a"/><rect x="293" y="219" width="9" height="9" fill="#999999"/><rect x="301" y="219" width="9" height="9" fill="#969696"/><rect x="309" y="219" width="9" height="9" fill="#969696"/><rect x="317" y="219" width="9" height="9" fill="#9d9d9d"/><rect x="325" y="219" width="17" height="9" fill="#8e8e8e"/><rect x="341" y="219" width="9" height="9" fill="#929292"/><rect x="349" y="219" width="9" height="9" fill="#7f7f7f"/><rect x="357" y="219" width="9" height="9" fill="#949494"/><rect x="365" y="219" width="9" height="9" fill="#8e8e8e"/><rect x="373" y="219" width="17" height="9" fill="#979797"/><rect x="261" y="227" width="17" height="9" fill="#ababab"/><rect x="277" y="227" width="9" height="9" fill="#5f5f5f"/><rect x="285" y="227" width="9" height="9" fill="#939393"/><rect x="293" y="227" width="9" height="9" fill="#a4a4a4"/><rect x="301" y="227" width="9" height="9" fill="#b9b9b9"/><rect x="309" y="227" width="9" height="9" fill="#a3a3a3"/><rect x="317" y="227" width="9" height="9" fill="#a2a2a2"/><rect x="325" y="227" width="9" height="9" fill="#898989"/><rect x="333" y="227" width="9" height="9" fill="#9b9b9b"/><rect x="341" y="227" width="9" height="9" fill="#919191"/><rect x="349" y="227" width="9" height="9" fill="#747474"/><rect x="357" y="227" width="9" height="9" fill="#767676"/><rect x="365" y="227" width="9" height="9" fill="#949494"/><rect x="373" y="227" width="17" height="9" fill="#858585"/><rect x="261" y="235" width="17" height="9" fill="#1d1d1d"/><rect x="277" y="235" width="9" height="9" fill="#4b4b4b"/><rect x="285" y="235" width="9" height="9" fill="#848484"/><rect x="293" y="235" width="9" height="9" fill="#b9b9b9"/><rect x="301" y="235" width="9" height="9" fill="#9f9f9f"/><rect x="309" y="235" width="9" height="9" fill="#acacac"/><rect x="317" y="235" width="9" height="9" fill="#e4e4e4"/><rect x="325" y="235" width="9" height="9" fill="#8d8d8d"/><rect x="333" y="235" width="9" height="9" fill="#bcbcbc"/><rect x="341" y="235" width="17" height="9" fill="#8a8a8a"/><rect x="357" y="235" width="9" height="9" fill="#676767"/><rect x="365" y="235" width="9" height="9" fill="#8c8c8c"/><rect x="373" y="235" width="17" height="9" fill="#d3d3d3"/><rect x="261" y="243" width="17" height="9" fill="#1d1d1d"/><rect x="277" y="243" width="9" height="9" fill="#4b4b4b"/><rect x="285" y="243" width="9" height="9" fill="#848484"/><rect x="293" y="243" width="9" height="9" fill="#b9b9b9"/><rect x="301" y="243" width="9" height="9" fill="#9f9f9f"/><rect x="309" y="243" width="9" height="9" fill="#acacac"/><rect x="317" y="243" width="9" height="9" fill="#e4e4e4"/><rect x="325" y="243" width="9" height="9" fill="#8d8d8d"/><rect x="333" y="243" width="9" height="9" fill="#bcbcbc"/><rect x="341" y="243" width="17" height="9" fill="#8a8a8a"/><rect x="357" y="243" width="9" height="9" fill="#676767"/><rect x="365" y="243" width="9" height="9" fill="#8c8c8c"/><rect x="373" y="243" width="17" height="9" fill="#d3d3d3"/></g></g>
<circle cx="300.6" cy="243.8" r="1.9" fill="#fff" filter="url(#b1)"/>
<circle cx="368.9" cy="167.4" r="6.8" fill="none" stroke="#000" stroke-width="1"/>
<text x="368.9" y="171.9" font-size="12.4" text-anchor="middle" fill="#000" stroke="#000" stroke-width="0.25">2</text>
<rect x="266.5" y="251.1" width="114.5" height="13.1" fill="#181818"/>
<rect x="266.90" y="252.2" width="7.16" height="11.2" fill="#d800ff"/>
<rect x="274.01" y="252.2" width="7.16" height="11.2" fill="#8200ff"/>
<rect x="281.11" y="252.2" width="7.16" height="11.2" fill="#3800fa"/>
<rect x="288.22" y="252.2" width="7.16" height="11.2" fill="#0024ff"/>
<rect x="295.32" y="252.2" width="7.16" height="11.2" fill="#0074fa"/>
<rect x="302.43" y="252.2" width="7.16" height="11.2" fill="#00ccff"/>
<rect x="309.54" y="252.2" width="7.16" height="11.2" fill="#00ffe4"/>
<rect x="316.64" y="252.2" width="7.16" height="11.2" fill="#00ff8c"/>
<rect x="323.75" y="252.2" width="7.16" height="11.2" fill="#00ff46"/>
<rect x="330.86" y="252.2" width="7.16" height="11.2" fill="#00fa00"/>
<rect x="337.96" y="252.2" width="7.16" height="11.2" fill="#50ff00"/>
<rect x="345.07" y="252.2" width="7.16" height="11.2" fill="#b4ff00"/>
<rect x="352.17" y="252.2" width="7.16" height="11.2" fill="#ffff00"/>
<rect x="359.28" y="252.2" width="7.16" height="11.2" fill="#ffa200"/>
<rect x="366.39" y="252.2" width="7.16" height="11.2" fill="#ff5000"/>
<rect x="373.49" y="252.2" width="7.16" height="11.2" fill="#ff0000"/>
<rect x="408.2" y="150.3" width="116.2" height="97.8" fill="#808080" filter="url(#spk)"/>
<path d="M409.7,150.3 C411.2,152.1 413.2,154.3 415.2,155.8 C417.2,157.1 419.2,158.2 421.2,159.1 C425.2,160.5 430.2,161.1 436.2,161.3 L524.4,161.3 L524.4,150.3 Z" fill="#000"/>
<path d="M408.2,248.1 C410.2,246.9 412.7,245.3 415.2,244.0 C420.2,241.6 427.2,239.3 437.2,238.8 L524.4,238.8 L524.4,248.1 Z" fill="#000"/>
<clipPath id="fc2R"><path d="M415.8,157.4 C418.8,159.0 421.8,160.2 424.8,161.0 C428.8,161.6 433.8,161.6 438.2,161.6 L520.8,161.6 L520.8,238.6 L438.2,238.6 C430.2,238.8 421.2,240.2 415.8,242.4 Z"/></clipPath>
<g clip-path="url(#fc2R)"><g filter="url(#cm)"><rect x="402" y="148" width="17" height="9" fill="#4f4f4f"/><rect x="418" y="148" width="9" height="9" fill="#4d4d4d"/><rect x="426" y="148" width="9" height="9" fill="#636363"/><rect x="434" y="148" width="9" height="9" fill="#fefefe"/><rect x="442" y="148" width="9" height="9" fill="#e4e4e4"/><rect x="450" y="148" width="9" height="9" fill="#5e5e5e"/><rect x="458" y="148" width="9" height="9" fill="#5b5b5b"/><rect x="466" y="148" width="9" height="9" fill="#505050"/><rect x="474" y="148" width="9" height="9" fill="#424242"/><rect x="482" y="148" width="9" height="9" fill="#464646"/><rect x="490" y="148" width="25" height="9" fill="#454545"/><rect x="514" y="148" width="17" height="9" fill="#454545"/><rect x="402" y="156" width="17" height="9" fill="#4f4f4f"/><rect x="418" y="156" width="9" height="9" fill="#4d4d4d"/><rect x="426" y="156" width="9" height="9" fill="#636363"/><rect x="434" y="156" width="9" height="9" fill="#fefefe"/><rect x="442" y="156" width="9" height="9" fill="#e4e4e4"/><rect x="450" y="156" width="9" height="9" fill="#5e5e5e"/><rect x="458" y="156" width="9" height="9" fill="#5b5b5b"/><rect x="466" y="156" width="9" height="9" fill="#505050"/><rect x="474" y="156" width="9" height="9" fill="#424242"/><rect x="482" y="156" width="9" height="9" fill="#464646"/><rect x="490" y="156" width="25" height="9" fill="#454545"/><rect x="514" y="156" width="17" height="9" fill="#454545"/><rect x="402" y="164" width="17" height="9" fill="#545454"/><rect x="418" y="164" width="9" height="9" fill="#4d4d4d"/><rect x="426" y="164" width="9" height="9" fill="#5f5f5f"/><rect x="434" y="164" width="9" height="9" fill="#aeaeae"/><rect x="442" y="164" width="9" height="9" fill="#f9f9f9"/><rect x="450" y="164" width="9" height="9" fill="#868686"/><rect x="458" y="164" width="9" height="9" fill="#565656"/><rect x="466" y="164" width="9" height="9" fill="#4e4e4e"/><rect x="474" y="164" width="9" height="9" fill="#545454"/><rect x="482" y="164" width="9" height="9" fill="#414141"/><rect x="490" y="164" width="9" height="9" fill="#464646"/><rect x="498" y="164" width="9" height="9" fill="#454545"/><rect x="506" y="164" width="9" height="9" fill="#454545"/><rect x="514" y="164" width="17" height="9" fill="#434343"/><rect x="402" y="172" width="17" height="9" fill="#303030"/><rect x="418" y="172" width="9" height="9" fill="#535353"/><rect x="426" y="172" width="9" height="9" fill="#545454"/><rect x="434" y="172" width="9" height="9" fill="#747474"/><rect x="442" y="172" width="9" height="9" fill="#ffffff"/><rect x="450" y="172" width="9" height="9" fill="#cdcdcd"/><rect x="458" y="172" width="9" height="9" fill="#4a4a4a"/><rect x="466" y="172" width="9" height="9" fill="#515151"/><rect x="474" y="172" width="9" height="9" fill="#4f4f4f"/><rect x="482" y="172" width="9" height="9" fill="#545454"/><rect x="490" y="172" width="9" height="9" fill="#434343"/><rect x="498" y="172" width="9" height="9" fill="#464646"/><rect x="506" y="172" width="9" height="9" fill="#434343"/><rect x="514" y="172" width="17" height="9" fill="#535353"/><rect x="402" y="180" width="17" height="9" fill="#525252"/><rect x="418" y="180" width="9" height="9" fill="#4c4c4c"/><rect x="426" y="180" width="9" height="9" fill="#666666"/><rect x="434" y="180" width="9" height="9" fill="#868686"/><rect x="442" y="180" width="9" height="9" fill="#a1a1a1"/><rect x="450" y="180" width="9" height="9" fill="#9d9d9d"/><rect x="458" y="180" width="9" height="9" fill="#636363"/><rect x="466" y="180" width="9" height="9" fill="#4d4d4d"/><rect x="474" y="180" width="9" height="9" fill="#505050"/><rect x="482" y="180" width="9" height="9" fill="#515151"/><rect x="490" y="180" width="9" height="9" fill="#434343"/><rect x="498" y="180" width="9" height="9" fill="#454545"/><rect x="506" y="180" width="9" height="9" fill="#444444"/><rect x="514" y="180" width="17" height="9" fill="#515151"/><rect x="402" y="188" width="17" height="9" fill="#5f5f5f"/><rect x="418" y="188" width="9" height="9" fill="#4b4b4b"/><rect x="426" y="188" width="9" height="9" fill="#636363"/><rect x="434" y="188" width="9" height="9" fill="#8b8b8b"/><rect x="442" y="188" width="9" height="9" fill="#929292"/><rect x="450" y="188" width="9" height="9" fill="#888888"/><rect x="458" y="188" width="9" height="9" fill="#636363"/><rect x="466" y="188" width="9" height="9" fill="#4b4b4b"/><rect x="474" y="188" width="9" height="9" fill="#505050"/><rect x="482" y="188" width="9" height="9" fill="#515151"/><rect x="490" y="188" width="9" height="9" fill="#444444"/><rect x="498" y="188" width="9" height="9" fill="#464646"/><rect x="506" y="188" width="9" height="9" fill="#414141"/><rect x="514" y="188" width="17" height="9" fill="#515151"/><rect x="402" y="196" width="17" height="9" fill="#4e4e4e"/><rect x="418" y="196" width="9" height="9" fill="#4d4d4d"/><rect x="426" y="196" width="9" height="9" fill="#696969"/><rect x="434" y="196" width="9" height="9" fill="#6c6c6c"/><rect x="442" y="196" width="9" height="9" fill="#7e7e7e"/><rect x="450" y="196" width="9" height="9" fill="#6f6f6f"/><rect x="458" y="196" width="9" height="9" fill="#646464"/><rect x="466" y="196" width="9" height="9" fill="#5d5d5d"/><rect x="474" y="196" width="9" height="9" fill="#4e4e4e"/><rect x="482" y="196" width="9" height="9" fill="#525252"/><rect x="490" y="196" width="9" height="9" fill="#424242"/><rect x="498" y="196" width="9" height="9" fill="#444444"/><rect x="506" y="196" width="9" height="9" fill="#535353"/><rect x="514" y="196" width="17" height="9" fill="#4f4f4f"/><rect x="402" y="204" width="17" height="9" fill="#505050"/><rect x="418" y="204" width="9" height="9" fill="#4e4e4e"/><rect x="426" y="204" width="9" height="9" fill="#5a5a5a"/><rect x="434" y="204" width="9" height="9" fill="#666666"/><rect x="442" y="204" width="9" height="9" fill="#656565"/><rect x="450" y="204" width="9" height="9" fill="#555555"/><rect x="458" y="204" width="9" height="9" fill="#6a6a6a"/><rect x="466" y="204" width="9" height="9" fill="#595959"/><rect x="474" y="204" width="9" height="9" fill="#4e4e4e"/><rect x="482" y="204" width="9" height="9" fill="#505050"/><rect x="490" y="204" width="9" height="9" fill="#525252"/><rect x="498" y="204" width="9" height="9" fill="#404040"/><rect x="506" y="204" width="25" height="9" fill="#515151"/><rect x="402" y="212" width="17" height="9" fill="#4f4f4f"/><rect x="418" y="212" width="9" height="9" fill="#505050"/><rect x="426" y="212" width="9" height="9" fill="#4c4c4c"/><rect x="434" y="212" width="9" height="9" fill="#5e5e5e"/><rect x="442" y="212" width="9" height="9" fill="#5c5c5c"/><rect x="450" y="212" width="9" height="9" fill="#4b4b4b"/><rect x="458" y="212" width="9" height="9" fill="#5c5c5c"/><rect x="466" y="212" width="9" height="9" fill="#5e5e5e"/><rect x="474" y="212" width="9" height="9" fill="#505050"/><rect x="482" y="212" width="9" height="9" fill="#4d4d4d"/><rect x="490" y="212" width="9" height="9" fill="#5f5f5f"/><rect x="498" y="212" width="9" height="9" fill="#4f4f4f"/><rect x="506" y="212" width="9" height="9" fill="#515151"/><rect x="514" y="212" width="17" height="9" fill="#434343"/><rect x="402" y="220" width="17" height="9" fill="#535353"/><rect x="418" y="220" width="9" height="9" fill="#4f4f4f"/><rect x="426" y="220" width="9" height="9" fill="#525252"/><rect x="434" y="220" width="9" height="9" fill="#3f3f3f"/><rect x="442" y="220" width="9" height="9" fill="#525252"/><rect x="450" y="220" width="9" height="9" fill="#505050"/><rect x="458" y="220" width="9" height="9" fill="#4e4e4e"/><rect x="466" y="220" width="9" height="9" fill="#505050"/><rect x="474" y="220" width="9" height="9" fill="#404040"/><rect x="482" y="220" width="9" height="9" fill="#525252"/><rect x="490" y="220" width="9" height="9" fill="#5d5d5d"/><rect x="498" y="220" width="9" height="9" fill="#4d4d4d"/><rect x="506" y="220" width="9" height="9" fill="#535353"/><rect x="514" y="220" width="17" height="9" fill="#383838"/><rect x="402" y="228" width="17" height="9" fill="#363636"/><rect x="418" y="228" width="9" height="9" fill="#525252"/><rect x="426" y="228" width="9" height="9" fill="#555555"/><rect x="434" y="228" width="9" height="9" fill="#363636"/><rect x="442" y="228" width="9" height="9" fill="#464646"/><rect x="450" y="228" width="9" height="9" fill="#515151"/><rect x="458" y="228" width="9" height="9" fill="#4f4f4f"/><rect x="466" y="228" width="9" height="9" fill="#525252"/><rect x="474" y="228" width="9" height="9" fill="#424242"/><rect x="482" y="228" width="9" height="9" fill="#3f3f3f"/><rect x="490" y="228" width="9" height="9" fill="#626262"/><rect x="498" y="228" width="9" height="9" fill="#4d4d4d"/><rect x="506" y="228" width="9" height="9" fill="#555555"/><rect x="514" y="228" width="17" height="9" fill="#282828"/><rect x="402" y="236" width="17" height="9" fill="#2a2a2a"/><rect x="418" y="236" width="9" height="9" fill="#565656"/><rect x="426" y="236" width="9" height="9" fill="#454545"/><rect x="434" y="236" width="9" height="9" fill="#2a2a2a"/><rect x="442" y="236" width="9" height="9" fill="#383838"/><rect x="450" y="236" width="9" height="9" fill="#535353"/><rect x="458" y="236" width="17" height="9" fill="#4f4f4f"/><rect x="474" y="236" width="9" height="9" fill="#535353"/><rect x="482" y="236" width="9" height="9" fill="#424242"/><rect x="490" y="236" width="9" height="9" fill="#505050"/><rect x="498" y="236" width="9" height="9" fill="#4f4f4f"/><rect x="506" y="236" width="9" height="9" fill="#535353"/><rect x="514" y="236" width="17" height="9" fill="#393939"/><rect x="402" y="244" width="17" height="9" fill="#2a2a2a"/><rect x="418" y="244" width="9" height="9" fill="#565656"/><rect x="426" y="244" width="9" height="9" fill="#454545"/><rect x="434" y="244" width="9" height="9" fill="#2a2a2a"/><rect x="442" y="244" width="9" height="9" fill="#383838"/><rect x="450" y="244" width="9" height="9" fill="#535353"/><rect x="458" y="244" width="17" height="9" fill="#4f4f4f"/><rect x="474" y="244" width="9" height="9" fill="#535353"/><rect x="482" y="244" width="9" height="9" fill="#424242"/><rect x="490" y="244" width="9" height="9" fill="#505050"/><rect x="498" y="244" width="9" height="9" fill="#4f4f4f"/><rect x="506" y="244" width="9" height="9" fill="#535353"/><rect x="514" y="244" width="17" height="9" fill="#393939"/><path transform="translate(410,156)" d="M31,3.5 L38.7,23" fill="none" stroke="#ffffff" stroke-width="7" stroke-linecap="round" stroke-linejoin="round"/></g></g>
<circle cx="442.7" cy="244.9" r="1.9" fill="#fff" filter="url(#b1)"/>
<circle cx="509.7" cy="169.6" r="6.8" fill="none" stroke="#fff" stroke-width="1"/>
<text x="509.7" y="174.1" font-size="12.4" text-anchor="middle" fill="#fff" stroke="#fff" stroke-width="0.25">2</text>
<rect x="409.8" y="251.1" width="114.9" height="12.8" fill="#181818"/>
<rect x="410.20" y="252.2" width="7.18" height="10.9" fill="#d800ff"/>
<rect x="417.33" y="252.2" width="7.18" height="10.9" fill="#8200ff"/>
<rect x="424.46" y="252.2" width="7.18" height="10.9" fill="#3800fa"/>
<rect x="431.59" y="252.2" width="7.18" height="10.9" fill="#0024ff"/>
<rect x="438.73" y="252.2" width="7.18" height="10.9" fill="#0074fa"/>
<rect x="445.86" y="252.2" width="7.18" height="10.9" fill="#00ccff"/>
<rect x="452.99" y="252.2" width="7.18" height="10.9" fill="#00ffe4"/>
<rect x="460.12" y="252.2" width="7.18" height="10.9" fill="#00ff8c"/>
<rect x="467.25" y="252.2" width="7.18" height="10.9" fill="#00ff46"/>
<rect x="474.38" y="252.2" width="7.18" height="10.9" fill="#00fa00"/>
<rect x="481.51" y="252.2" width="7.18" height="10.9" fill="#50ff00"/>
<rect x="488.64" y="252.2" width="7.18" height="10.9" fill="#b4ff00"/>
<rect x="495.78" y="252.2" width="7.18" height="10.9" fill="#ffff00"/>
<rect x="502.91" y="252.2" width="7.18" height="10.9" fill="#ffa200"/>
<rect x="510.04" y="252.2" width="7.18" height="10.9" fill="#ff5000"/>
<rect x="517.17" y="252.2" width="7.18" height="10.9" fill="#ff0000"/>
<text class="ser" x="263.3" y="275.0" font-size="9" textLength="34.3" lengthAdjust="spacingAndGlyphs">0.00038</text>
<text class="ser" x="352.5" y="275.0" font-size="9" textLength="33.8" lengthAdjust="spacingAndGlyphs">0.00194</text>
<text x="313.8" y="273.1" font-size="14.3" font-weight="bold" style="font-family:'Liberation Serif',serif" textLength="6.5" lengthAdjust="spacingAndGlyphs">ε</text>
<text x="320.4" y="275.8" font-size="9.3" font-weight="bold" textLength="26.2" lengthAdjust="spacingAndGlyphs">x.local</text>
<text x="395.5" y="275.3" font-size="9.3" font-weight="bold" textLength="36.6" lengthAdjust="spacingAndGlyphs">-0.00068</text>
<text x="505.9" y="275.3" font-size="9.3" font-weight="bold" textLength="34.2" lengthAdjust="spacingAndGlyphs">0.00264</text>
<text x="445.0" y="275.2" font-size="12" font-weight="bold" style="font-family:'Liberation Serif',serif" textLength="5.8" lengthAdjust="spacingAndGlyphs">ε</text>
<circle cx="447.3" cy="268.0" r="0.85" fill="#000"/>
<text x="450.6" y="277.7" font-size="9.3" font-weight="bold" textLength="24.2" lengthAdjust="spacingAndGlyphs">x.local</text>
<text x="477.4" y="275.6" font-size="9.8" font-weight="bold" textLength="19.2" lengthAdjust="spacingAndGlyphs">(1/s)</text>
<rect x="266.1" y="282.2" width="115.7" height="99.0" fill="#808080" filter="url(#spk)"/>
<path d="M267.6,282.2 C269.1,284.0 271.1,285.9 273.1,287.3 C275.1,288.5 277.1,289.5 279.1,290.4 C283.1,291.7 288.1,292.2 294.1,292.4 L381.8,292.4 L381.8,282.2 Z" fill="#000"/>
<path d="M266.1,381.2 C268.1,379.9 270.6,378.3 273.1,376.9 C278.1,374.3 285.1,371.9 295.1,371.4 L381.8,371.4 L381.8,381.2 Z" fill="#000"/>
<clipPath id="fc3L"><path d="M273.1,288.9 C276.1,290.3 279.1,291.5 282.1,292.2 C286.1,292.7 291.1,292.7 296.1,292.7 L378.2,292.7 L378.2,371.2 L296.1,371.2 C288.1,371.4 279.1,373.0 273.1,375.3 Z"/></clipPath>
<g clip-path="url(#fc3L)"><g filter="url(#cm)"><rect x="261" y="281" width="17" height="9" fill="#343434"/><rect x="277" y="281" width="9" height="9" fill="#585858"/><rect x="285" y="281" width="9" height="9" fill="#8f8f8f"/><rect x="293" y="281" width="9" height="9" fill="#f2f2f2"/><rect x="301" y="281" width="9" height="9" fill="#d6d6d6"/><rect x="309" y="281" width="9" height="9" fill="#606060"/><rect x="317" y="281" width="9" height="9" fill="#676767"/><rect x="325" y="281" width="9" height="9" fill="#585858"/><rect x="333" y="281" width="9" height="9" fill="#5a5a5a"/><rect x="341" y="281" width="9" height="9" fill="#5c5c5c"/><rect x="349" y="281" width="9" height="9" fill="#5e5e5e"/><rect x="357" y="281" width="9" height="9" fill="#4d4d4d"/><rect x="365" y="281" width="9" height="9" fill="#545454"/><rect x="373" y="281" width="17" height="9" fill="#343434"/><rect x="261" y="289" width="17" height="9" fill="#343434"/><rect x="277" y="289" width="9" height="9" fill="#585858"/><rect x="285" y="289" width="9" height="9" fill="#8f8f8f"/><rect x="293" y="289" width="9" height="9" fill="#f2f2f2"/><rect x="301" y="289" width="9" height="9" fill="#d6d6d6"/><rect x="309" y="289" width="9" height="9" fill="#606060"/><rect x="317" y="289" width="9" height="9" fill="#676767"/><rect x="325" y="289" width="9" height="9" fill="#585858"/><rect x="333" y="289" width="9" height="9" fill="#5a5a5a"/><rect x="341" y="289" width="9" height="9" fill="#5c5c5c"/><rect x="349" y="289" width="9" height="9" fill="#5e5e5e"/><rect x="357" y="289" width="9" height="9" fill="#4d4d4d"/><rect x="365" y="289" width="9" height="9" fill="#545454"/><rect x="373" y="289" width="17" height="9" fill="#343434"/><rect x="261" y="297" width="17" height="9" fill="#525252"/><rect x="277" y="297" width="9" height="9" fill="#5b5b5b"/><rect x="285" y="297" width="9" height="9" fill="#5b5b5b"/><rect x="293" y="297" width="9" height="9" fill="#f1f1f1"/><rect x="301" y="297" width="9" height="9" fill="#f6f6f6"/><rect x="309" y="297" width="9" height="9" fill="#7a7a7a"/><rect x="317" y="297" width="9" height="9" fill="#646464"/><rect x="325" y="297" width="9" height="9" fill="#5b5b5b"/><rect x="333" y="297" width="9" height="9" fill="#5e5e5e"/><rect x="341" y="297" width="9" height="9" fill="#4c4c4c"/><rect x="349" y="297" width="9" height="9" fill="#4e4e4e"/><rect x="357" y="297" width="9" height="9" fill="#505050"/><rect x="365" y="297" width="9" height="9" fill="#4f4f4f"/><rect x="373" y="297" width="17" height="9" fill="#535353"/><rect x="261" y="305" width="17" height="9" fill="#4e4e4e"/><rect x="277" y="305" width="9" height="9" fill="#595959"/><rect x="285" y="305" width="9" height="9" fill="#707070"/><rect x="293" y="305" width="9" height="9" fill="#898989"/><rect x="301" y="305" width="9" height="9" fill="#f4f4f4"/><rect x="309" y="305" width="9" height="9" fill="#9b9b9b"/><rect x="317" y="305" width="9" height="9" fill="#616161"/><rect x="325" y="305" width="9" height="9" fill="#4b4b4b"/><rect x="333" y="305" width="17" height="9" fill="#505050"/><rect x="349" y="305" width="9" height="9" fill="#4e4e4e"/><rect x="357" y="305" width="17" height="9" fill="#505050"/><rect x="373" y="305" width="17" height="9" fill="#4f4f4f"/><rect x="261" y="313" width="17" height="9" fill="#4e4e4e"/><rect x="277" y="313" width="9" height="9" fill="#595959"/><rect x="285" y="313" width="9" height="9" fill="#6e6e6e"/><rect x="293" y="313" width="9" height="9" fill="#919191"/><rect x="301" y="313" width="9" height="9" fill="#a3a3a3"/><rect x="309" y="313" width="9" height="9" fill="#949494"/><rect x="317" y="313" width="9" height="9" fill="#616161"/><rect x="325" y="313" width="9" height="9" fill="#505050"/><rect x="333" y="313" width="9" height="9" fill="#414141"/><rect x="341" y="313" width="9" height="9" fill="#505050"/><rect x="349" y="313" width="9" height="9" fill="#606060"/><rect x="357" y="313" width="9" height="9" fill="#4e4e4e"/><rect x="365" y="313" width="9" height="9" fill="#505050"/><rect x="373" y="313" width="17" height="9" fill="#515151"/><rect x="261" y="321" width="17" height="9" fill="#515151"/><rect x="277" y="321" width="9" height="9" fill="#595959"/><rect x="285" y="321" width="9" height="9" fill="#707070"/><rect x="293" y="321" width="9" height="9" fill="#959595"/><rect x="301" y="321" width="9" height="9" fill="#939393"/><rect x="309" y="321" width="9" height="9" fill="#777777"/><rect x="317" y="321" width="9" height="9" fill="#666666"/><rect x="325" y="321" width="9" height="9" fill="#4c4c4c"/><rect x="333" y="321" width="9" height="9" fill="#414141"/><rect x="341" y="321" width="9" height="9" fill="#505050"/><rect x="349" y="321" width="9" height="9" fill="#5d5d5d"/><rect x="357" y="321" width="9" height="9" fill="#4b4b4b"/><rect x="365" y="321" width="9" height="9" fill="#525252"/><rect x="373" y="321" width="17" height="9" fill="#444444"/><rect x="261" y="329" width="17" height="9" fill="#3e3e3e"/><rect x="277" y="329" width="9" height="9" fill="#5e5e5e"/><rect x="285" y="329" width="9" height="9" fill="#5e5e5e"/><rect x="293" y="329" width="9" height="9" fill="#8d8d8d"/><rect x="301" y="329" width="9" height="9" fill="#797979"/><rect x="309" y="329" width="9" height="9" fill="#727272"/><rect x="317" y="329" width="9" height="9" fill="#666666"/><rect x="325" y="329" width="9" height="9" fill="#5e5e5e"/><rect x="333" y="329" width="9" height="9" fill="#505050"/><rect x="341" y="329" width="9" height="9" fill="#4e4e4e"/><rect x="349" y="329" width="9" height="9" fill="#5e5e5e"/><rect x="357" y="329" width="9" height="9" fill="#606060"/><rect x="365" y="329" width="9" height="9" fill="#515151"/><rect x="373" y="329" width="17" height="9" fill="#363636"/><rect x="261" y="337" width="17" height="9" fill="#515151"/><rect x="277" y="337" width="9" height="9" fill="#5a5a5a"/><rect x="285" y="337" width="9" height="9" fill="#676767"/><rect x="293" y="337" width="9" height="9" fill="#727272"/><rect x="301" y="337" width="9" height="9" fill="#636363"/><rect x="309" y="337" width="9" height="9" fill="#545454"/><rect x="317" y="337" width="9" height="9" fill="#5d5d5d"/><rect x="325" y="337" width="9" height="9" fill="#4b4b4b"/><rect x="333" y="337" width="9" height="9" fill="#505050"/><rect x="341" y="337" width="9" height="9" fill="#505050"/><rect x="349" y="337" width="9" height="9" fill="#4c4c4c"/><rect x="357" y="337" width="9" height="9" fill="#4b4b4b"/><rect x="365" y="337" width="9" height="9" fill="#545454"/><rect x="373" y="337" width="17" height="9" fill="#363636"/><rect x="261" y="345" width="17" height="9" fill="#4b4b4b"/><rect x="277" y="345" width="9" height="9" fill="#5e5e5e"/><rect x="285" y="345" width="9" height="9" fill="#5c5c5c"/><rect x="293" y="345" width="9" height="9" fill="#595959"/><rect x="301" y="345" width="9" height="9" fill="#5a5a5a"/><rect x="309" y="345" width="9" height="9" fill="#5f5f5f"/><rect x="317" y="345" width="9" height="9" fill="#4a4a4a"/><rect x="325" y="345" width="9" height="9" fill="#515151"/><rect x="333" y="345" width="9" height="9" fill="#505050"/><rect x="341" y="345" width="9" height="9" fill="#4e4e4e"/><rect x="349" y="345" width="17" height="9" fill="#5e5e5e"/><rect x="365" y="345" width="9" height="9" fill="#4f4f4f"/><rect x="373" y="345" width="17" height="9" fill="#454545"/><rect x="261" y="353" width="17" height="9" fill="#636363"/><rect x="277" y="353" width="9" height="9" fill="#4f4f4f"/><rect x="285" y="353" width="9" height="9" fill="#404040"/><rect x="293" y="353" width="9" height="9" fill="#505050"/><rect x="301" y="353" width="9" height="9" fill="#4e4e4e"/><rect x="309" y="353" width="9" height="9" fill="#4b4b4b"/><rect x="317" y="353" width="9" height="9" fill="#606060"/><rect x="325" y="353" width="9" height="9" fill="#4d4d4d"/><rect x="333" y="353" width="9" height="9" fill="#505050"/><rect x="341" y="353" width="9" height="9" fill="#4e4e4e"/><rect x="349" y="353" width="9" height="9" fill="#5d5d5d"/><rect x="357" y="353" width="9" height="9" fill="#5d5d5d"/><rect x="365" y="353" width="9" height="9" fill="#4f4f4f"/><rect x="373" y="353" width="17" height="9" fill="#454545"/><rect x="261" y="361" width="17" height="9" fill="#343434"/><rect x="277" y="361" width="9" height="9" fill="#4c4c4c"/><rect x="285" y="361" width="9" height="9" fill="#333333"/><rect x="293" y="361" width="9" height="9" fill="#545454"/><rect x="301" y="361" width="9" height="9" fill="#505050"/><rect x="309" y="361" width="9" height="9" fill="#4e4e4e"/><rect x="317" y="361" width="9" height="9" fill="#5f5f5f"/><rect x="325" y="361" width="9" height="9" fill="#4e4e4e"/><rect x="333" y="361" width="17" height="9" fill="#505050"/><rect x="349" y="361" width="9" height="9" fill="#4e4e4e"/><rect x="357" y="361" width="9" height="9" fill="#4d4d4d"/><rect x="365" y="361" width="9" height="9" fill="#535353"/><rect x="373" y="361" width="17" height="9" fill="#383838"/><rect x="261" y="369" width="17" height="9" fill="#2f2f2f"/><rect x="277" y="369" width="9" height="9" fill="#2b2b2b"/><rect x="285" y="369" width="9" height="9" fill="#393939"/><rect x="293" y="369" width="9" height="9" fill="#535353"/><rect x="301" y="369" width="9" height="9" fill="#4f4f4f"/><rect x="309" y="369" width="9" height="9" fill="#505050"/><rect x="317" y="369" width="9" height="9" fill="#4e4e4e"/><rect x="325" y="369" width="9" height="9" fill="#505050"/><rect x="333" y="369" width="17" height="9" fill="#505050"/><rect x="349" y="369" width="9" height="9" fill="#505050"/><rect x="357" y="369" width="9" height="9" fill="#4f4f4f"/><rect x="365" y="369" width="9" height="9" fill="#555555"/><rect x="373" y="369" width="17" height="9" fill="#2a2a2a"/><rect x="261" y="377" width="17" height="9" fill="#2f2f2f"/><rect x="277" y="377" width="9" height="9" fill="#2b2b2b"/><rect x="285" y="377" width="9" height="9" fill="#393939"/><rect x="293" y="377" width="9" height="9" fill="#535353"/><rect x="301" y="377" width="9" height="9" fill="#4f4f4f"/><rect x="309" y="377" width="9" height="9" fill="#505050"/><rect x="317" y="377" width="9" height="9" fill="#4e4e4e"/><rect x="325" y="377" width="9" height="9" fill="#505050"/><rect x="333" y="377" width="17" height="9" fill="#505050"/><rect x="349" y="377" width="9" height="9" fill="#505050"/><rect x="357" y="377" width="9" height="9" fill="#4f4f4f"/><rect x="365" y="377" width="9" height="9" fill="#555555"/><rect x="373" y="377" width="17" height="9" fill="#2a2a2a"/><path transform="translate(269,289)" d="M26,3 L36,21.5" fill="none" stroke="#ffffff" stroke-width="7" stroke-linecap="round" stroke-linejoin="round"/></g></g>
<circle cx="300.6" cy="378.0" r="1.9" fill="#fff" filter="url(#b1)"/>
<circle cx="368.6" cy="304.5" r="6.8" fill="none" stroke="#fff" stroke-width="1"/>
<text x="368.6" y="309.0" font-size="12.4" text-anchor="middle" fill="#fff" stroke="#fff" stroke-width="0.25">3</text>
<rect x="266.5" y="384.5" width="115.1" height="13.0" fill="#181818"/>
<rect x="266.90" y="385.6" width="7.19" height="11.1" fill="#d800ff"/>
<rect x="274.04" y="385.6" width="7.19" height="11.1" fill="#8200ff"/>
<rect x="281.19" y="385.6" width="7.19" height="11.1" fill="#3800fa"/>
<rect x="288.33" y="385.6" width="7.19" height="11.1" fill="#0024ff"/>
<rect x="295.47" y="385.6" width="7.19" height="11.1" fill="#0074fa"/>
<rect x="302.62" y="385.6" width="7.19" height="11.1" fill="#00ccff"/>
<rect x="309.76" y="385.6" width="7.19" height="11.1" fill="#00ffe4"/>
<rect x="316.91" y="385.6" width="7.19" height="11.1" fill="#00ff8c"/>
<rect x="324.05" y="385.6" width="7.19" height="11.1" fill="#00ff46"/>
<rect x="331.19" y="385.6" width="7.19" height="11.1" fill="#00fa00"/>
<rect x="338.34" y="385.6" width="7.19" height="11.1" fill="#50ff00"/>
<rect x="345.48" y="385.6" width="7.19" height="11.1" fill="#b4ff00"/>
<rect x="352.62" y="385.6" width="7.19" height="11.1" fill="#ffff00"/>
<rect x="359.77" y="385.6" width="7.19" height="11.1" fill="#ffa200"/>
<rect x="366.91" y="385.6" width="7.19" height="11.1" fill="#ff5000"/>
<rect x="374.06" y="385.6" width="7.19" height="11.1" fill="#ff0000"/>
<rect x="408.2" y="282.5" width="115.6" height="99.2" fill="#808080" filter="url(#spk)"/>
<path d="M409.7,282.5 C411.2,284.3 413.2,286.3 415.2,287.8 C417.2,289.0 419.2,290.1 421.2,290.9 C425.2,292.3 430.2,292.8 436.2,293.0 L523.8,293.0 L523.8,282.5 Z" fill="#000"/>
<path d="M408.2,381.7 C410.2,380.4 412.7,378.7 415.2,377.3 C420.2,374.6 427.2,372.1 437.2,371.6 L523.8,371.6 L523.8,381.7 Z" fill="#000"/>
<clipPath id="fc3R"><path d="M414.7,289.4 C417.7,290.8 420.7,292.0 423.7,292.8 C427.7,293.3 432.7,293.3 438.2,293.3 L521.6,293.3 L521.6,371.4 L438.2,371.4 C430.2,371.6 421.2,373.2 414.7,375.7 Z"/></clipPath>
<g clip-path="url(#fc3R)"><g filter="url(#cm)"><rect x="402" y="282" width="17" height="9" fill="#454545"/><rect x="418" y="282" width="9" height="9" fill="#505050"/><rect x="426" y="282" width="9" height="9" fill="#646464"/><rect x="434" y="282" width="9" height="9" fill="#ffffff"/><rect x="442" y="282" width="9" height="9" fill="#d5d5d5"/><rect x="450" y="282" width="9" height="9" fill="#565656"/><rect x="458" y="282" width="9" height="9" fill="#424242"/><rect x="466" y="282" width="9" height="9" fill="#3b3b3b"/><rect x="474" y="282" width="33" height="9" fill="#3a3a3a"/><rect x="506" y="282" width="9" height="9" fill="#3c3c3c"/><rect x="514" y="282" width="17" height="9" fill="#2d2d2d"/><rect x="402" y="290" width="17" height="9" fill="#454545"/><rect x="418" y="290" width="9" height="9" fill="#505050"/><rect x="426" y="290" width="9" height="9" fill="#646464"/><rect x="434" y="290" width="9" height="9" fill="#ffffff"/><rect x="442" y="290" width="9" height="9" fill="#d5d5d5"/><rect x="450" y="290" width="9" height="9" fill="#565656"/><rect x="458" y="290" width="9" height="9" fill="#424242"/><rect x="466" y="290" width="9" height="9" fill="#3b3b3b"/><rect x="474" y="290" width="33" height="9" fill="#3a3a3a"/><rect x="506" y="290" width="9" height="9" fill="#3c3c3c"/><rect x="514" y="290" width="17" height="9" fill="#2d2d2d"/><rect x="402" y="298" width="17" height="9" fill="#373737"/><rect x="418" y="298" width="9" height="9" fill="#444444"/><rect x="426" y="298" width="9" height="9" fill="#4e4e4e"/><rect x="434" y="298" width="9" height="9" fill="#adadad"/><rect x="442" y="298" width="9" height="9" fill="#fcfcfc"/><rect x="450" y="298" width="9" height="9" fill="#787878"/><rect x="458" y="298" width="9" height="9" fill="#525252"/><rect x="466" y="298" width="9" height="9" fill="#282828"/><rect x="474" y="298" width="9" height="9" fill="#3d3d3d"/><rect x="482" y="298" width="9" height="9" fill="#3a3a3a"/><rect x="490" y="298" width="25" height="9" fill="#3a3a3a"/><rect x="514" y="298" width="17" height="9" fill="#393939"/><rect x="402" y="306" width="17" height="9" fill="#3c3c3c"/><rect x="418" y="306" width="9" height="9" fill="#444444"/><rect x="426" y="306" width="9" height="9" fill="#585858"/><rect x="434" y="306" width="9" height="9" fill="#898989"/><rect x="442" y="306" width="9" height="9" fill="#ffffff"/><rect x="450" y="306" width="9" height="9" fill="#c1c1c1"/><rect x="458" y="306" width="9" height="9" fill="#464646"/><rect x="466" y="306" width="9" height="9" fill="#272727"/><rect x="474" y="306" width="9" height="9" fill="#3d3d3d"/><rect x="482" y="306" width="9" height="9" fill="#3a3a3a"/><rect x="490" y="306" width="9" height="9" fill="#3a3a3a"/><rect x="498" y="306" width="9" height="9" fill="#3b3b3b"/><rect x="506" y="306" width="9" height="9" fill="#373737"/><rect x="514" y="306" width="17" height="9" fill="#565656"/><rect x="402" y="314" width="17" height="9" fill="#2a2a2a"/><rect x="418" y="314" width="9" height="9" fill="#464646"/><rect x="426" y="314" width="9" height="9" fill="#5b5b5b"/><rect x="434" y="314" width="9" height="9" fill="#686868"/><rect x="442" y="314" width="9" height="9" fill="#8a8a8a"/><rect x="450" y="314" width="9" height="9" fill="#898989"/><rect x="458" y="314" width="9" height="9" fill="#494949"/><rect x="466" y="314" width="9" height="9" fill="#4a4a4a"/><rect x="474" y="314" width="9" height="9" fill="#383838"/><rect x="482" y="314" width="9" height="9" fill="#3b3b3b"/><rect x="490" y="314" width="9" height="9" fill="#3a3a3a"/><rect x="498" y="314" width="9" height="9" fill="#3b3b3b"/><rect x="506" y="314" width="9" height="9" fill="#373737"/><rect x="514" y="314" width="17" height="9" fill="#525252"/><rect x="402" y="322" width="17" height="9" fill="#3a3a3a"/><rect x="418" y="322" width="9" height="9" fill="#444444"/><rect x="426" y="322" width="9" height="9" fill="#5b5b5b"/><rect x="434" y="322" width="9" height="9" fill="#777777"/><rect x="442" y="322" width="9" height="9" fill="#707070"/><rect x="450" y="322" width="9" height="9" fill="#636363"/><rect x="458" y="322" width="9" height="9" fill="#4f4f4f"/><rect x="466" y="322" width="9" height="9" fill="#454545"/><rect x="474" y="322" width="9" height="9" fill="#393939"/><rect x="482" y="322" width="17" height="9" fill="#3b3b3b"/><rect x="498" y="322" width="17" height="9" fill="#383838"/><rect x="514" y="322" width="17" height="9" fill="#505050"/><rect x="402" y="330" width="17" height="9" fill="#474747"/><rect x="418" y="330" width="9" height="9" fill="#434343"/><rect x="426" y="330" width="9" height="9" fill="#505050"/><rect x="434" y="330" width="9" height="9" fill="#595959"/><rect x="442" y="330" width="9" height="9" fill="#585858"/><rect x="450" y="330" width="9" height="9" fill="#5d5d5d"/><rect x="458" y="330" width="9" height="9" fill="#4f4f4f"/><rect x="466" y="330" width="9" height="9" fill="#454545"/><rect x="474" y="330" width="9" height="9" fill="#393939"/><rect x="482" y="330" width="9" height="9" fill="#3b3b3b"/><rect x="490" y="330" width="9" height="9" fill="#383838"/><rect x="498" y="330" width="9" height="9" fill="#4e4e4e"/><rect x="506" y="330" width="9" height="9" fill="#303030"/><rect x="514" y="330" width="17" height="9" fill="#656565"/><rect x="402" y="338" width="17" height="9" fill="#434343"/><rect x="418" y="338" width="9" height="9" fill="#464646"/><rect x="426" y="338" width="9" height="9" fill="#414141"/><rect x="434" y="338" width="9" height="9" fill="#525252"/><rect x="442" y="338" width="9" height="9" fill="#505050"/><rect x="450" y="338" width="9" height="9" fill="#4f4f4f"/><rect x="458" y="338" width="9" height="9" fill="#535353"/><rect x="466" y="338" width="9" height="9" fill="#444444"/><rect x="474" y="338" width="9" height="9" fill="#393939"/><rect x="482" y="338" width="9" height="9" fill="#3b3b3b"/><rect x="490" y="338" width="9" height="9" fill="#3b3b3b"/><rect x="498" y="338" width="9" height="9" fill="#363636"/><rect x="506" y="338" width="9" height="9" fill="#4a4a4a"/><rect x="514" y="338" width="17" height="9" fill="#404040"/><rect x="402" y="346" width="17" height="9" fill="#4f4f4f"/><rect x="418" y="346" width="9" height="9" fill="#444444"/><rect x="426" y="346" width="9" height="9" fill="#454545"/><rect x="434" y="346" width="9" height="9" fill="#454545"/><rect x="442" y="346" width="9" height="9" fill="#454545"/><rect x="450" y="346" width="9" height="9" fill="#454545"/><rect x="458" y="346" width="9" height="9" fill="#454545"/><rect x="466" y="346" width="9" height="9" fill="#494949"/><rect x="474" y="346" width="9" height="9" fill="#393939"/><rect x="482" y="346" width="9" height="9" fill="#3b3b3b"/><rect x="490" y="346" width="9" height="9" fill="#3b3b3b"/><rect x="498" y="346" width="9" height="9" fill="#373737"/><rect x="506" y="346" width="9" height="9" fill="#464646"/><rect x="514" y="346" width="17" height="9" fill="#474747"/><rect x="402" y="354" width="17" height="9" fill="#707070"/><rect x="418" y="354" width="9" height="9" fill="#3e3e3e"/><rect x="426" y="354" width="9" height="9" fill="#4a4a4a"/><rect x="434" y="354" width="9" height="9" fill="#393939"/><rect x="442" y="354" width="9" height="9" fill="#383838"/><rect x="450" y="354" width="9" height="9" fill="#3b3b3b"/><rect x="458" y="354" width="17" height="9" fill="#393939"/><rect x="474" y="354" width="9" height="9" fill="#383838"/><rect x="482" y="354" width="9" height="9" fill="#3c3c3c"/><rect x="490" y="354" width="9" height="9" fill="#363636"/><rect x="498" y="354" width="9" height="9" fill="#494949"/><rect x="506" y="354" width="9" height="9" fill="#464646"/><rect x="514" y="354" width="17" height="9" fill="#373737"/><rect x="402" y="362" width="17" height="9" fill="#525252"/><rect x="418" y="362" width="9" height="9" fill="#474747"/><rect x="426" y="362" width="9" height="9" fill="#393939"/><rect x="434" y="362" width="9" height="9" fill="#2a2a2a"/><rect x="442" y="362" width="9" height="9" fill="#414141"/><rect x="450" y="362" width="9" height="9" fill="#2a2a2a"/><rect x="458" y="362" width="9" height="9" fill="#3d3d3d"/><rect x="466" y="362" width="9" height="9" fill="#383838"/><rect x="474" y="362" width="9" height="9" fill="#4b4b4b"/><rect x="482" y="362" width="9" height="9" fill="#343434"/><rect x="490" y="362" width="9" height="9" fill="#4a4a4a"/><rect x="498" y="362" width="9" height="9" fill="#444444"/><rect x="506" y="362" width="9" height="9" fill="#474747"/><rect x="514" y="362" width="17" height="9" fill="#393939"/><rect x="402" y="370" width="17" height="9" fill="#2a2a2a"/><rect x="418" y="370" width="9" height="9" fill="#3b3b3b"/><rect x="426" y="370" width="9" height="9" fill="#3c3c3c"/><rect x="434" y="370" width="9" height="9" fill="#2f2f2f"/><rect x="442" y="370" width="9" height="9" fill="#2e2e2e"/><rect x="450" y="370" width="9" height="9" fill="#2f2f2f"/><rect x="458" y="370" width="9" height="9" fill="#3c3c3c"/><rect x="466" y="370" width="9" height="9" fill="#393939"/><rect x="474" y="370" width="9" height="9" fill="#464646"/><rect x="482" y="370" width="9" height="9" fill="#474747"/><rect x="490" y="370" width="9" height="9" fill="#454545"/><rect x="498" y="370" width="9" height="9" fill="#454545"/><rect x="506" y="370" width="9" height="9" fill="#474747"/><rect x="514" y="370" width="17" height="9" fill="#393939"/><rect x="402" y="378" width="17" height="9" fill="#2a2a2a"/><rect x="418" y="378" width="9" height="9" fill="#3b3b3b"/><rect x="426" y="378" width="9" height="9" fill="#3c3c3c"/><rect x="434" y="378" width="9" height="9" fill="#2f2f2f"/><rect x="442" y="378" width="9" height="9" fill="#2e2e2e"/><rect x="450" y="378" width="9" height="9" fill="#2f2f2f"/><rect x="458" y="378" width="9" height="9" fill="#3c3c3c"/><rect x="466" y="378" width="9" height="9" fill="#393939"/><rect x="474" y="378" width="9" height="9" fill="#464646"/><rect x="482" y="378" width="9" height="9" fill="#474747"/><rect x="490" y="378" width="9" height="9" fill="#454545"/><rect x="498" y="378" width="9" height="9" fill="#454545"/><rect x="506" y="378" width="9" height="9" fill="#474747"/><rect x="514" y="378" width="17" height="9" fill="#393939"/><path transform="translate(410,290)" d="M30,3.5 L39.5,22" fill="none" stroke="#ffffff" stroke-width="7" stroke-linecap="round" stroke-linejoin="round"/></g></g>
<circle cx="442.7" cy="378.5" r="1.9" fill="#fff" filter="url(#b1)"/>
<circle cx="509.4" cy="306.8" r="6.8" fill="none" stroke="#fff" stroke-width="1"/>
<text x="509.4" y="311.3" font-size="12.4" text-anchor="middle" fill="#fff" stroke="#fff" stroke-width="0.25">3</text>
<rect x="410.9" y="385.0" width="114.2" height="13.5" fill="#181818"/>
<rect x="411.30" y="386.1" width="7.14" height="11.6" fill="#d800ff"/>
<rect x="418.39" y="386.1" width="7.14" height="11.6" fill="#8200ff"/>
<rect x="425.47" y="386.1" width="7.14" height="11.6" fill="#3800fa"/>
<rect x="432.56" y="386.1" width="7.14" height="11.6" fill="#0024ff"/>
<rect x="439.65" y="386.1" width="7.14" height="11.6" fill="#0074fa"/>
<rect x="446.74" y="386.1" width="7.14" height="11.6" fill="#00ccff"/>
<rect x="453.82" y="386.1" width="7.14" height="11.6" fill="#00ffe4"/>
<rect x="460.91" y="386.1" width="7.14" height="11.6" fill="#00ff8c"/>
<rect x="468.00" y="386.1" width="7.14" height="11.6" fill="#00ff46"/>
<rect x="475.09" y="386.1" width="7.14" height="11.6" fill="#00fa00"/>
<rect x="482.17" y="386.1" width="7.14" height="11.6" fill="#50ff00"/>
<rect x="489.26" y="386.1" width="7.14" height="11.6" fill="#b4ff00"/>
<rect x="496.35" y="386.1" width="7.14" height="11.6" fill="#ffff00"/>
<rect x="503.44" y="386.1" width="7.14" height="11.6" fill="#ffa200"/>
<rect x="510.52" y="386.1" width="7.14" height="11.6" fill="#ff5000"/>
<rect x="517.61" y="386.1" width="7.14" height="11.6" fill="#ff0000"/>
<text class="ser" x="263.3" y="409.5" font-size="9" textLength="34.3" lengthAdjust="spacingAndGlyphs">0.00048</text>
<text class="ser" x="352.5" y="409.5" font-size="9" textLength="33.8" lengthAdjust="spacingAndGlyphs">0.00432</text>
<text x="313.8" y="407.6" font-size="14.3" font-weight="bold" style="font-family:'Liberation Serif',serif" textLength="6.5" lengthAdjust="spacingAndGlyphs">ε</text>
<text x="320.4" y="410.3" font-size="9.3" font-weight="bold" textLength="26.2" lengthAdjust="spacingAndGlyphs">x.local</text>
<text x="399.2" y="409.8" font-size="9.3" font-weight="bold" textLength="32.2" lengthAdjust="spacingAndGlyphs">-0.0004</text>
<text x="506.9" y="409.8" font-size="9.3" font-weight="bold" textLength="33.8" lengthAdjust="spacingAndGlyphs">0.00254</text>
<text x="446.8" y="409.7" font-size="12" font-weight="bold" style="font-family:'Liberation Serif',serif" textLength="5.8" lengthAdjust="spacingAndGlyphs">ε</text>
<circle cx="449.1" cy="402.5" r="0.85" fill="#000"/>
<text x="452.7" y="412.2" font-size="9.3" font-weight="bold" textLength="23.6" lengthAdjust="spacingAndGlyphs">x.local</text>
<text x="478.0" y="410.1" font-size="9.8" font-weight="bold" textLength="19.0" lengthAdjust="spacingAndGlyphs">(1/s)</text>
<rect x="266.1" y="416.4" width="115.5" height="99.2" fill="#808080" filter="url(#spk)"/>
<path d="M267.6,416.4 C269.1,418.2 271.1,419.8 273.1,421.1 C275.1,422.2 277.1,423.2 279.1,423.9 C283.1,425.1 288.1,425.7 294.1,425.8 L381.6,425.8 L381.6,416.4 Z" fill="#000"/>
<path d="M266.1,515.6 C268.1,514.4 270.6,512.8 273.1,511.6 C278.1,509.2 285.1,506.9 295.1,506.4 L381.6,506.4 L381.6,515.6 Z" fill="#000"/>
<clipPath id="fc4L"><path d="M273.1,422.7 C276.1,424.0 279.1,425.0 282.1,425.6 C286.1,426.1 291.1,426.1 296.1,426.1 L378.8,426.1 L378.8,506.2 L296.1,506.2 C288.1,506.4 279.1,507.8 273.1,510.0 Z"/></clipPath>
<g clip-path="url(#fc4L)"><g filter="url(#cm)"><rect x="261" y="415" width="17" height="9" fill="#2c2c2c"/><rect x="277" y="415" width="9" height="9" fill="#444444"/><rect x="285" y="415" width="9" height="9" fill="#656565"/><rect x="293" y="415" width="9" height="9" fill="#ffffff"/><rect x="301" y="415" width="9" height="9" fill="#dedede"/><rect x="309" y="415" width="9" height="9" fill="#848484"/><rect x="317" y="415" width="9" height="9" fill="#717171"/><rect x="325" y="415" width="9" height="9" fill="#4d4d4d"/><rect x="333" y="415" width="9" height="9" fill="#434343"/><rect x="341" y="415" width="9" height="9" fill="#494949"/><rect x="349" y="415" width="9" height="9" fill="#383838"/><rect x="357" y="415" width="9" height="9" fill="#3b3b3b"/><rect x="365" y="415" width="25" height="9" fill="#3a3a3a"/><rect x="261" y="423" width="17" height="9" fill="#2c2c2c"/><rect x="277" y="423" width="9" height="9" fill="#444444"/><rect x="285" y="423" width="9" height="9" fill="#656565"/><rect x="293" y="423" width="9" height="9" fill="#ffffff"/><rect x="301" y="423" width="9" height="9" fill="#dedede"/><rect x="309" y="423" width="9" height="9" fill="#848484"/><rect x="317" y="423" width="9" height="9" fill="#717171"/><rect x="325" y="423" width="9" height="9" fill="#4d4d4d"/><rect x="333" y="423" width="9" height="9" fill="#434343"/><rect x="341" y="423" width="9" height="9" fill="#494949"/><rect x="349" y="423" width="9" height="9" fill="#383838"/><rect x="357" y="423" width="9" height="9" fill="#3b3b3b"/><rect x="365" y="423" width="25" height="9" fill="#3a3a3a"/><rect x="261" y="431" width="17" height="9" fill="#3b3b3b"/><rect x="277" y="431" width="9" height="9" fill="#444444"/><rect x="285" y="431" width="9" height="9" fill="#565656"/><rect x="293" y="431" width="9" height="9" fill="#7e7e7e"/><rect x="301" y="431" width="9" height="9" fill="#fbfbfb"/><rect x="309" y="431" width="9" height="9" fill="#b2b2b2"/><rect x="317" y="431" width="9" height="9" fill="#6c6c6c"/><rect x="325" y="431" width="9" height="9" fill="#4d4d4d"/><rect x="333" y="431" width="9" height="9" fill="#484848"/><rect x="341" y="431" width="9" height="9" fill="#363636"/><rect x="349" y="431" width="9" height="9" fill="#3b3b3b"/><rect x="357" y="431" width="33" height="9" fill="#3a3a3a"/><rect x="261" y="439" width="17" height="9" fill="#393939"/><rect x="277" y="439" width="9" height="9" fill="#464646"/><rect x="285" y="439" width="9" height="9" fill="#4e4e4e"/><rect x="293" y="439" width="9" height="9" fill="#606060"/><rect x="301" y="439" width="9" height="9" fill="#f9f9f9"/><rect x="309" y="439" width="9" height="9" fill="#c3c3c3"/><rect x="317" y="439" width="9" height="9" fill="#676767"/><rect x="325" y="439" width="9" height="9" fill="#4e4e4e"/><rect x="333" y="439" width="9" height="9" fill="#363636"/><rect x="341" y="439" width="9" height="9" fill="#3c3c3c"/><rect x="349" y="439" width="25" height="9" fill="#3b3b3b"/><rect x="373" y="439" width="17" height="9" fill="#3a3a3a"/><rect x="261" y="447" width="17" height="9" fill="#393939"/><rect x="277" y="447" width="9" height="9" fill="#464646"/><rect x="285" y="447" width="9" height="9" fill="#4d4d4d"/><rect x="293" y="447" width="9" height="9" fill="#5f5f5f"/><rect x="301" y="447" width="9" height="9" fill="#898989"/><rect x="309" y="447" width="9" height="9" fill="#a0a0a0"/><rect x="317" y="447" width="9" height="9" fill="#7b7b7b"/><rect x="325" y="447" width="9" height="9" fill="#5c5c5c"/><rect x="333" y="447" width="9" height="9" fill="#333333"/><rect x="341" y="447" width="9" height="9" fill="#393939"/><rect x="349" y="447" width="17" height="9" fill="#393939"/><rect x="365" y="447" width="9" height="9" fill="#3a3a3a"/><rect x="373" y="447" width="17" height="9" fill="#3c3c3c"/><rect x="261" y="455" width="17" height="9" fill="#393939"/><rect x="277" y="455" width="9" height="9" fill="#444444"/><rect x="285" y="455" width="9" height="9" fill="#5c5c5c"/><rect x="293" y="455" width="9" height="9" fill="#747474"/><rect x="301" y="455" width="9" height="9" fill="#7d7d7d"/><rect x="309" y="455" width="9" height="9" fill="#787878"/><rect x="317" y="455" width="9" height="9" fill="#7f7f7f"/><rect x="325" y="455" width="9" height="9" fill="#626262"/><rect x="333" y="455" width="9" height="9" fill="#4f4f4f"/><rect x="341" y="455" width="9" height="9" fill="#464646"/><rect x="349" y="455" width="9" height="9" fill="#474747"/><rect x="357" y="455" width="9" height="9" fill="#484848"/><rect x="365" y="455" width="9" height="9" fill="#3a3a3a"/><rect x="373" y="455" width="17" height="9" fill="#2d2d2d"/><rect x="261" y="463" width="17" height="9" fill="#393939"/><rect x="277" y="463" width="9" height="9" fill="#434343"/><rect x="285" y="463" width="9" height="9" fill="#5d5d5d"/><rect x="293" y="463" width="9" height="9" fill="#686868"/><rect x="301" y="463" width="9" height="9" fill="#636363"/><rect x="309" y="463" width="9" height="9" fill="#626262"/><rect x="317" y="463" width="9" height="9" fill="#6e6e6e"/><rect x="325" y="463" width="9" height="9" fill="#848484"/><rect x="333" y="463" width="9" height="9" fill="#686868"/><rect x="341" y="463" width="9" height="9" fill="#3c3c3c"/><rect x="349" y="463" width="9" height="9" fill="#464646"/><rect x="357" y="463" width="9" height="9" fill="#484848"/><rect x="365" y="463" width="9" height="9" fill="#3a3a3a"/><rect x="373" y="463" width="17" height="9" fill="#2d2d2d"/><rect x="261" y="471" width="17" height="9" fill="#393939"/><rect x="277" y="471" width="9" height="9" fill="#474747"/><rect x="285" y="471" width="9" height="9" fill="#515151"/><rect x="293" y="471" width="9" height="9" fill="#4c4c4c"/><rect x="301" y="471" width="9" height="9" fill="#5d5d5d"/><rect x="309" y="471" width="9" height="9" fill="#585858"/><rect x="317" y="471" width="9" height="9" fill="#676767"/><rect x="325" y="471" width="9" height="9" fill="#6f6f6f"/><rect x="333" y="471" width="9" height="9" fill="#717171"/><rect x="341" y="471" width="9" height="9" fill="#5d5d5d"/><rect x="349" y="471" width="9" height="9" fill="#424242"/><rect x="357" y="471" width="9" height="9" fill="#383838"/><rect x="365" y="471" width="9" height="9" fill="#3b3b3b"/><rect x="373" y="471" width="17" height="9" fill="#3c3c3c"/><rect x="261" y="479" width="17" height="9" fill="#3b3b3b"/><rect x="277" y="479" width="9" height="9" fill="#373737"/><rect x="285" y="479" width="9" height="9" fill="#484848"/><rect x="293" y="479" width="9" height="9" fill="#444444"/><rect x="301" y="479" width="9" height="9" fill="#515151"/><rect x="309" y="479" width="9" height="9" fill="#505050"/><rect x="317" y="479" width="9" height="9" fill="#4a4a4a"/><rect x="325" y="479" width="9" height="9" fill="#666666"/><rect x="333" y="479" width="9" height="9" fill="#868686"/><rect x="341" y="479" width="9" height="9" fill="#606060"/><rect x="349" y="479" width="9" height="9" fill="#4f4f4f"/><rect x="357" y="479" width="9" height="9" fill="#363636"/><rect x="365" y="479" width="9" height="9" fill="#3b3b3b"/><rect x="373" y="479" width="17" height="9" fill="#3a3a3a"/><rect x="261" y="487" width="17" height="9" fill="#3a3a3a"/><rect x="277" y="487" width="9" height="9" fill="#3b3b3b"/><rect x="285" y="487" width="9" height="9" fill="#393939"/><rect x="293" y="487" width="9" height="9" fill="#373737"/><rect x="301" y="487" width="9" height="9" fill="#474747"/><rect x="309" y="487" width="9" height="9" fill="#454545"/><rect x="317" y="487" width="9" height="9" fill="#454545"/><rect x="325" y="487" width="9" height="9" fill="#4c4c4c"/><rect x="333" y="487" width="9" height="9" fill="#616161"/><rect x="341" y="487" width="9" height="9" fill="#868686"/><rect x="349" y="487" width="9" height="9" fill="#686868"/><rect x="357" y="487" width="9" height="9" fill="#404040"/><rect x="365" y="487" width="9" height="9" fill="#3a3a3a"/><rect x="373" y="487" width="17" height="9" fill="#3b3b3b"/><rect x="261" y="495" width="25" height="9" fill="#3c3c3c"/><rect x="285" y="495" width="9" height="9" fill="#3d3d3d"/><rect x="293" y="495" width="9" height="9" fill="#3b3b3b"/><rect x="301" y="495" width="9" height="9" fill="#393939"/><rect x="309" y="495" width="9" height="9" fill="#393939"/><rect x="317" y="495" width="9" height="9" fill="#373737"/><rect x="325" y="495" width="9" height="9" fill="#464646"/><rect x="333" y="495" width="9" height="9" fill="#5d5d5d"/><rect x="341" y="495" width="17" height="9" fill="#717171"/><rect x="357" y="495" width="9" height="9" fill="#5c5c5c"/><rect x="365" y="495" width="9" height="9" fill="#343434"/><rect x="373" y="495" width="17" height="9" fill="#3b3b3b"/><rect x="261" y="503" width="17" height="9" fill="#2e2e2e"/><rect x="277" y="503" width="9" height="9" fill="#2f2f2f"/><rect x="285" y="503" width="9" height="9" fill="#2c2c2c"/><rect x="293" y="503" width="9" height="9" fill="#3c3c3c"/><rect x="301" y="503" width="17" height="9" fill="#3a3a3a"/><rect x="317" y="503" width="9" height="9" fill="#3d3d3d"/><rect x="325" y="503" width="9" height="9" fill="#282828"/><rect x="333" y="503" width="9" height="9" fill="#414141"/><rect x="341" y="503" width="9" height="9" fill="#656565"/><rect x="349" y="503" width="9" height="9" fill="#7f7f7f"/><rect x="357" y="503" width="9" height="9" fill="#777777"/><rect x="365" y="503" width="9" height="9" fill="#424242"/><rect x="373" y="503" width="17" height="9" fill="#3a3a3a"/><rect x="261" y="511" width="17" height="9" fill="#2e2e2e"/><rect x="277" y="511" width="9" height="9" fill="#2f2f2f"/><rect x="285" y="511" width="9" height="9" fill="#2c2c2c"/><rect x="293" y="511" width="9" height="9" fill="#3c3c3c"/><rect x="301" y="511" width="17" height="9" fill="#3a3a3a"/><rect x="317" y="511" width="9" height="9" fill="#3d3d3d"/><rect x="325" y="511" width="9" height="9" fill="#282828"/><rect x="333" y="511" width="9" height="9" fill="#414141"/><rect x="341" y="511" width="9" height="9" fill="#656565"/><rect x="349" y="511" width="9" height="9" fill="#7f7f7f"/><rect x="357" y="511" width="9" height="9" fill="#777777"/><rect x="365" y="511" width="9" height="9" fill="#424242"/><rect x="373" y="511" width="17" height="9" fill="#3a3a3a"/><path transform="translate(269,423)" d="M43.8,30.5 L53,40.7 L67.2,57 L81.5,73.3 L93,85" fill="none" stroke="#a5a5a5" stroke-width="4.5" stroke-linecap="round" stroke-linejoin="round"/><path transform="translate(269,423)" d="M30,3.5 L40.5,23" fill="none" stroke="#ffffff" stroke-width="7" stroke-linecap="round" stroke-linejoin="round"/></g></g>
<circle cx="300.6" cy="511.8" r="1.9" fill="#fff" filter="url(#b1)"/>
<circle cx="370.8" cy="436.0" r="6.8" fill="none" stroke="#fff" stroke-width="1"/>
<text x="370.8" y="440.5" font-size="12.4" text-anchor="middle" fill="#fff" stroke="#fff" stroke-width="0.25">4</text>
<rect x="266.5" y="518.1" width="114.7" height="13.4" fill="#181818"/>
<rect x="266.90" y="519.2" width="7.17" height="11.5" fill="#d800ff"/>
<rect x="274.02" y="519.2" width="7.17" height="11.5" fill="#8200ff"/>
<rect x="281.14" y="519.2" width="7.17" height="11.5" fill="#3800fa"/>
<rect x="288.26" y="519.2" width="7.17" height="11.5" fill="#0024ff"/>
<rect x="295.38" y="519.2" width="7.17" height="11.5" fill="#0074fa"/>
<rect x="302.49" y="519.2" width="7.17" height="11.5" fill="#00ccff"/>
<rect x="309.61" y="519.2" width="7.17" height="11.5" fill="#00ffe4"/>
<rect x="316.73" y="519.2" width="7.17" height="11.5" fill="#00ff8c"/>
<rect x="323.85" y="519.2" width="7.17" height="11.5" fill="#00ff46"/>
<rect x="330.97" y="519.2" width="7.17" height="11.5" fill="#00fa00"/>
<rect x="338.09" y="519.2" width="7.17" height="11.5" fill="#50ff00"/>
<rect x="345.21" y="519.2" width="7.17" height="11.5" fill="#b4ff00"/>
<rect x="352.32" y="519.2" width="7.17" height="11.5" fill="#ffff00"/>
<rect x="359.44" y="519.2" width="7.17" height="11.5" fill="#ffa200"/>
<rect x="366.56" y="519.2" width="7.17" height="11.5" fill="#ff5000"/>
<rect x="373.68" y="519.2" width="7.17" height="11.5" fill="#ff0000"/>
<rect x="409.4" y="416.4" width="115.7" height="99.2" fill="#808080" filter="url(#spk)"/>
<path d="M410.9,416.4 C412.4,418.2 414.4,420.4 416.4,421.9 C418.4,423.2 420.4,424.3 422.4,425.2 C426.4,426.6 431.4,427.2 437.4,427.4 L525.1,427.4 L525.1,416.4 Z" fill="#000"/>
<path d="M409.4,515.6 C411.4,514.3 413.9,512.7 416.4,511.3 C421.4,508.7 428.4,506.3 438.4,505.8 L525.1,505.8 L525.1,515.6 Z" fill="#000"/>
<clipPath id="fc4R"><path d="M417.1,423.5 C420.1,425.1 423.1,426.3 426.1,427.1 C430.1,427.7 435.1,427.7 439.4,427.7 L523.0,427.7 L523.0,505.6 L439.4,505.6 C431.4,505.8 422.4,507.4 417.1,509.7 Z"/></clipPath>
<g clip-path="url(#fc4R)"><g filter="url(#cm4R)"><rect x="402" y="416" width="17" height="9" fill="#3a3a3a"/><rect x="418" y="416" width="9" height="9" fill="#3b3b3b"/><rect x="426" y="416" width="41" height="9" fill="#3a3a3a"/><rect x="466" y="416" width="9" height="9" fill="#3b3b3b"/><rect x="474" y="416" width="9" height="9" fill="#2d2d2d"/><rect x="482" y="416" width="9" height="9" fill="#3b3b3b"/><rect x="490" y="416" width="9" height="9" fill="#3a3a3a"/><rect x="498" y="416" width="17" height="9" fill="#3b3b3b"/><rect x="514" y="416" width="17" height="9" fill="#3a3a3a"/><rect x="402" y="424" width="17" height="9" fill="#3a3a3a"/><rect x="418" y="424" width="9" height="9" fill="#3b3b3b"/><rect x="426" y="424" width="41" height="9" fill="#3a3a3a"/><rect x="466" y="424" width="9" height="9" fill="#3b3b3b"/><rect x="474" y="424" width="9" height="9" fill="#2d2d2d"/><rect x="482" y="424" width="9" height="9" fill="#3b3b3b"/><rect x="490" y="424" width="9" height="9" fill="#3a3a3a"/><rect x="498" y="424" width="17" height="9" fill="#3b3b3b"/><rect x="514" y="424" width="17" height="9" fill="#3a3a3a"/><rect x="402" y="432" width="17" height="9" fill="#3b3b3b"/><rect x="418" y="432" width="9" height="9" fill="#2d2d2d"/><rect x="426" y="432" width="9" height="9" fill="#3b3b3b"/><rect x="434" y="432" width="9" height="9" fill="#393939"/><rect x="442" y="432" width="33" height="9" fill="#3b3b3b"/><rect x="474" y="432" width="9" height="9" fill="#3b3b3b"/><rect x="482" y="432" width="9" height="9" fill="#3a3a3a"/><rect x="490" y="432" width="9" height="9" fill="#3b3b3b"/><rect x="498" y="432" width="17" height="9" fill="#2e2e2e"/><rect x="514" y="432" width="17" height="9" fill="#3b3b3b"/><rect x="402" y="440" width="17" height="9" fill="#3b3b3b"/><rect x="418" y="440" width="9" height="9" fill="#2e2e2e"/><rect x="426" y="440" width="9" height="9" fill="#3a3a3a"/><rect x="434" y="440" width="9" height="9" fill="#484848"/><rect x="442" y="440" width="9" height="9" fill="#393939"/><rect x="450" y="440" width="9" height="9" fill="#3b3b3b"/><rect x="458" y="440" width="33" height="9" fill="#3a3a3a"/><rect x="490" y="440" width="9" height="9" fill="#3b3b3b"/><rect x="498" y="440" width="17" height="9" fill="#2e2e2e"/><rect x="514" y="440" width="17" height="9" fill="#3b3b3b"/><rect x="402" y="448" width="17" height="9" fill="#3b3b3b"/><rect x="418" y="448" width="9" height="9" fill="#2d2d2d"/><rect x="426" y="448" width="9" height="9" fill="#3a3a3a"/><rect x="434" y="448" width="9" height="9" fill="#454545"/><rect x="442" y="448" width="9" height="9" fill="#474747"/><rect x="450" y="448" width="9" height="9" fill="#393939"/><rect x="458" y="448" width="9" height="9" fill="#3b3b3b"/><rect x="466" y="448" width="33" height="9" fill="#3a3a3a"/><rect x="498" y="448" width="17" height="9" fill="#3b3b3b"/><rect x="514" y="448" width="17" height="9" fill="#3a3a3a"/><rect x="402" y="456" width="25" height="9" fill="#3a3a3a"/><rect x="426" y="456" width="9" height="9" fill="#464646"/><rect x="434" y="456" width="9" height="9" fill="#535353"/><rect x="442" y="456" width="9" height="9" fill="#454545"/><rect x="450" y="456" width="9" height="9" fill="#474747"/><rect x="458" y="456" width="9" height="9" fill="#393939"/><rect x="466" y="456" width="9" height="9" fill="#3b3b3b"/><rect x="474" y="456" width="25" height="9" fill="#3a3a3a"/><rect x="498" y="456" width="9" height="9" fill="#3b3b3b"/><rect x="506" y="456" width="25" height="9" fill="#3a3a3a"/><rect x="402" y="464" width="17" height="9" fill="#3b3b3b"/><rect x="418" y="464" width="9" height="9" fill="#393939"/><rect x="426" y="464" width="9" height="9" fill="#474747"/><rect x="434" y="464" width="9" height="9" fill="#454545"/><rect x="442" y="464" width="9" height="9" fill="#383838"/><rect x="450" y="464" width="17" height="9" fill="#474747"/><rect x="466" y="464" width="9" height="9" fill="#393939"/><rect x="474" y="464" width="9" height="9" fill="#3b3b3b"/><rect x="482" y="464" width="9" height="9" fill="#3a3a3a"/><rect x="490" y="464" width="9" height="9" fill="#3b3b3b"/><rect x="498" y="464" width="9" height="9" fill="#2c2c2c"/><rect x="506" y="464" width="25" height="9" fill="#3b3b3b"/><rect x="402" y="472" width="17" height="9" fill="#393939"/><rect x="418" y="472" width="9" height="9" fill="#3b3b3b"/><rect x="426" y="472" width="9" height="9" fill="#393939"/><rect x="434" y="472" width="9" height="9" fill="#484848"/><rect x="442" y="472" width="9" height="9" fill="#3a3a3a"/><rect x="450" y="472" width="9" height="9" fill="#393939"/><rect x="458" y="472" width="17" height="9" fill="#474747"/><rect x="474" y="472" width="9" height="9" fill="#393939"/><rect x="482" y="472" width="9" height="9" fill="#3b3b3b"/><rect x="490" y="472" width="9" height="9" fill="#3a3a3a"/><rect x="498" y="472" width="17" height="9" fill="#3b3b3b"/><rect x="514" y="472" width="17" height="9" fill="#2e2e2e"/><rect x="402" y="480" width="17" height="9" fill="#484848"/><rect x="418" y="480" width="9" height="9" fill="#393939"/><rect x="426" y="480" width="9" height="9" fill="#3b3b3b"/><rect x="434" y="480" width="9" height="9" fill="#393939"/><rect x="442" y="480" width="9" height="9" fill="#3a3a3a"/><rect x="450" y="480" width="9" height="9" fill="#3b3b3b"/><rect x="458" y="480" width="9" height="9" fill="#3a3a3a"/><rect x="466" y="480" width="17" height="9" fill="#474747"/><rect x="482" y="480" width="9" height="9" fill="#393939"/><rect x="490" y="480" width="9" height="9" fill="#3b3b3b"/><rect x="498" y="480" width="9" height="9" fill="#3a3a3a"/><rect x="506" y="480" width="9" height="9" fill="#3b3b3b"/><rect x="514" y="480" width="17" height="9" fill="#2e2e2e"/><rect x="402" y="488" width="17" height="9" fill="#393939"/><rect x="418" y="488" width="9" height="9" fill="#3a3a3a"/><rect x="426" y="488" width="9" height="9" fill="#3b3b3b"/><rect x="434" y="488" width="17" height="9" fill="#3a3a3a"/><rect x="450" y="488" width="9" height="9" fill="#2e2e2e"/><rect x="458" y="488" width="9" height="9" fill="#2d2d2d"/><rect x="466" y="488" width="9" height="9" fill="#3a3a3a"/><rect x="474" y="488" width="17" height="9" fill="#474747"/><rect x="490" y="488" width="9" height="9" fill="#393939"/><rect x="498" y="488" width="9" height="9" fill="#3b3b3b"/><rect x="506" y="488" width="9" height="9" fill="#3a3a3a"/><rect x="514" y="488" width="17" height="9" fill="#3b3b3b"/><rect x="402" y="496" width="25" height="9" fill="#3b3b3b"/><rect x="426" y="496" width="9" height="9" fill="#2d2d2d"/><rect x="434" y="496" width="9" height="9" fill="#3a3a3a"/><rect x="442" y="496" width="9" height="9" fill="#484848"/><rect x="450" y="496" width="9" height="9" fill="#2c2c2c"/><rect x="458" y="496" width="9" height="9" fill="#3c3c3c"/><rect x="466" y="496" width="9" height="9" fill="#3a3a3a"/><rect x="474" y="496" width="9" height="9" fill="#393939"/><rect x="482" y="496" width="9" height="9" fill="#474747"/><rect x="490" y="496" width="9" height="9" fill="#464646"/><rect x="498" y="496" width="9" height="9" fill="#393939"/><rect x="506" y="496" width="25" height="9" fill="#3b3b3b"/><rect x="402" y="504" width="17" height="9" fill="#2e2e2e"/><rect x="418" y="504" width="9" height="9" fill="#3c3c3c"/><rect x="426" y="504" width="9" height="9" fill="#2e2e2e"/><rect x="434" y="504" width="9" height="9" fill="#3a3a3a"/><rect x="442" y="504" width="9" height="9" fill="#474747"/><rect x="450" y="504" width="25" height="9" fill="#3a3a3a"/><rect x="474" y="504" width="9" height="9" fill="#3b3b3b"/><rect x="482" y="504" width="9" height="9" fill="#383838"/><rect x="490" y="504" width="9" height="9" fill="#535353"/><rect x="498" y="504" width="9" height="9" fill="#464646"/><rect x="506" y="504" width="9" height="9" fill="#3a3a3a"/><rect x="514" y="504" width="17" height="9" fill="#3a3a3a"/><rect x="402" y="512" width="17" height="9" fill="#2e2e2e"/><rect x="418" y="512" width="9" height="9" fill="#3c3c3c"/><rect x="426" y="512" width="9" height="9" fill="#2e2e2e"/><rect x="434" y="512" width="9" height="9" fill="#3a3a3a"/><rect x="442" y="512" width="9" height="9" fill="#474747"/><rect x="450" y="512" width="25" height="9" fill="#3a3a3a"/><rect x="474" y="512" width="9" height="9" fill="#3b3b3b"/><rect x="482" y="512" width="9" height="9" fill="#383838"/><rect x="490" y="512" width="9" height="9" fill="#535353"/><rect x="498" y="512" width="9" height="9" fill="#464646"/><rect x="506" y="512" width="9" height="9" fill="#3a3a3a"/><rect x="514" y="512" width="17" height="9" fill="#3a3a3a"/><path transform="translate(410,424)" d="M32,-4 L36.7,4.1 L43.8,16.3 L51.9,28.5 L61.1,40.7 L70.3,53 L80.4,65.2 L90.6,76.4 L97.8,83.5 L106,92" fill="none" stroke="#505050" stroke-width="27" stroke-linecap="round" stroke-linejoin="round"/><path transform="translate(410,424)" d="M32,-4 L36.7,4.1 L43.8,16.3 L51.9,28.5 L61.1,40.7 L70.3,53 L80.4,65.2 L90.6,76.4 L97.8,83.5 L106,92" fill="none" stroke="#707070" stroke-width="21.5" stroke-linecap="round" stroke-linejoin="round"/><path transform="translate(410,424)" d="M32,-4 L36.7,4.1 L43.8,16.3 L51.9,28.5 L61.1,40.7 L70.3,53 L80.4,65.2 L90.6,76.4 L97.8,83.5 L106,92" fill="none" stroke="#959595" stroke-width="16.5" stroke-linecap="round" stroke-linejoin="round"/><path transform="translate(410,424)" d="M32,-4 L36.7,4.1 L43.8,16.3 L51.9,28.5 L61.1,40.7 L70.3,53 L80.4,65.2 L90.6,76.4 L97.8,83.5 L106,92" fill="none" stroke="#bfbfbf" stroke-width="11.5" stroke-linecap="round" stroke-linejoin="round"/><path transform="translate(410,424)" d="M32,-4 L36.7,4.1 L43.8,16.3 L51.9,28.5 L61.1,40.7 L70.3,53 L80.4,65.2 L90.6,76.4 L97.8,83.5 L106,92" fill="none" stroke="#fefefe" stroke-width="6" stroke-linecap="round" stroke-linejoin="round"/><path transform="translate(410,424)" d="M32,-4 L36.7,4.1 L43.8,16.3 L48,22.5" fill="none" stroke="#ffffff" stroke-width="10.5" stroke-linecap="round" stroke-linejoin="round"/><path transform="translate(410,424)" d="M83,68 L90.6,76.4 L97.8,83.5 L106,92" fill="none" stroke="#ffffff" stroke-width="10" stroke-linecap="round" stroke-linejoin="round"/></g></g>
<circle cx="443.9" cy="511.8" r="1.9" fill="#fff" filter="url(#b1)"/>
<circle cx="511.5" cy="438.1" r="6.8" fill="none" stroke="#fff" stroke-width="1"/>
<text x="511.5" y="442.6" font-size="12.4" text-anchor="middle" fill="#fff" stroke="#fff" stroke-width="0.25">4</text>
<rect x="410.9" y="518.5" width="114.2" height="12.8" fill="#181818"/>
<rect x="411.30" y="519.6" width="7.14" height="10.9" fill="#d800ff"/>
<rect x="418.39" y="519.6" width="7.14" height="10.9" fill="#8200ff"/>
<rect x="425.47" y="519.6" width="7.14" height="10.9" fill="#3800fa"/>
<rect x="432.56" y="519.6" width="7.14" height="10.9" fill="#0024ff"/>
<rect x="439.65" y="519.6" width="7.14" height="10.9" fill="#0074fa"/>
<rect x="446.74" y="519.6" width="7.14" height="10.9" fill="#00ccff"/>
<rect x="453.82" y="519.6" width="7.14" height="10.9" fill="#00ffe4"/>
<rect x="460.91" y="519.6" width="7.14" height="10.9" fill="#00ff8c"/>
<rect x="468.00" y="519.6" width="7.14" height="10.9" fill="#00ff46"/>
<rect x="475.09" y="519.6" width="7.14" height="10.9" fill="#00fa00"/>
<rect x="482.17" y="519.6" width="7.14" height="10.9" fill="#50ff00"/>
<rect x="489.26" y="519.6" width="7.14" height="10.9" fill="#b4ff00"/>
<rect x="496.35" y="519.6" width="7.14" height="10.9" fill="#ffff00"/>
<rect x="503.44" y="519.6" width="7.14" height="10.9" fill="#ffa200"/>
<rect x="510.52" y="519.6" width="7.14" height="10.9" fill="#ff5000"/>
<rect x="517.61" y="519.6" width="7.14" height="10.9" fill="#ff0000"/>
<text class="ser" x="263.3" y="542.1" font-size="9" textLength="34.3" lengthAdjust="spacingAndGlyphs">0.00065</text>
<text class="ser" x="352.5" y="542.1" font-size="9" textLength="33.8" lengthAdjust="spacingAndGlyphs">0.00815</text>
<text x="313.8" y="540.2" font-size="14.3" font-weight="bold" style="font-family:'Liberation Serif',serif" textLength="6.5" lengthAdjust="spacingAndGlyphs">ε</text>
<text x="320.4" y="542.9" font-size="9.3" font-weight="bold" textLength="26.2" lengthAdjust="spacingAndGlyphs">x.local</text>
<text x="399.4" y="542.4" font-size="9.3" font-weight="bold" textLength="32.1" lengthAdjust="spacingAndGlyphs">-0.0004</text>
<text x="509.0" y="542.4" font-size="9.3" font-weight="bold" textLength="29.0" lengthAdjust="spacingAndGlyphs">0.0049</text>
<text x="445.9" y="542.3" font-size="12" font-weight="bold" style="font-family:'Liberation Serif',serif" textLength="5.8" lengthAdjust="spacingAndGlyphs">ε</text>
<circle cx="448.2" cy="535.1" r="0.85" fill="#000"/>
<text x="451.2" y="544.8" font-size="9.3" font-weight="bold" textLength="24.6" lengthAdjust="spacingAndGlyphs">x.local</text>
<text x="478.0" y="542.7" font-size="9.8" font-weight="bold" textLength="19.5" lengthAdjust="spacingAndGlyphs">(1/s)</text>
<path d="M284.2,63.8 L289.4,39" stroke="#000" stroke-width="2.5" fill="none"/><path d="M283.9,44.6 L289.8,37.2 L292.5,46" stroke="#000" stroke-width="2.4" fill="none" stroke-linejoin="miter"/>
<text x="297.2" y="11.8" font-size="11" class="sb" fill="#111" textLength="53.8" lengthAdjust="spacingAndGlyphs">Strain field</text>
<text x="425.8" y="12.4" font-size="11" class="sb" fill="#111" textLength="79.5" lengthAdjust="spacingAndGlyphs" xml:space="preserve">Strain rate  field</text>
<text x="244.9" y="17.8" font-size="12.8" class="sb" fill="#111">(b)</text>
<path d="M50,167.6 L50,296.8 L226,296.8" fill="none" stroke="#3a3a3a" stroke-width="0.9"/>
<path d="M47.6,296.7 L50,296.7" stroke="#3a3a3a" stroke-width="0.9"/>
<path d="M48.7,280.6 L50,280.6" stroke="#3a3a3a" stroke-width="0.8"/>
<text x="45.2" y="300.8" font-size="11.4" text-anchor="end" fill="#111" class="sb3">325</text>
<path d="M47.6,264.6 L50,264.6" stroke="#3a3a3a" stroke-width="0.9"/>
<path d="M48.7,248.5 L50,248.5" stroke="#3a3a3a" stroke-width="0.8"/>
<text x="45.2" y="268.7" font-size="11.4" text-anchor="end" fill="#111" class="sb3">350</text>
<path d="M47.6,232.4 L50,232.4" stroke="#3a3a3a" stroke-width="0.9"/>
<path d="M48.7,216.3 L50,216.3" stroke="#3a3a3a" stroke-width="0.8"/>
<text x="45.2" y="236.5" font-size="11.4" text-anchor="end" fill="#111" class="sb3">375</text>
<path d="M47.6,200.2 L50,200.2" stroke="#3a3a3a" stroke-width="0.9"/>
<path d="M48.7,184.2 L50,184.2" stroke="#3a3a3a" stroke-width="0.8"/>
<text x="45.2" y="204.3" font-size="11.4" text-anchor="end" fill="#111" class="sb3">400</text>
<path d="M47.6,168.1 L50,168.1" stroke="#3a3a3a" stroke-width="0.9"/>
<text x="45.2" y="172.2" font-size="11.4" text-anchor="end" fill="#111" class="sb3">425</text>
<path d="M70.4,296.8 L70.4,299.4" stroke="#3a3a3a" stroke-width="0.9"/>
<path d="M51.1,296.8 L51.1,298.2" stroke="#3a3a3a" stroke-width="0.8"/>
<text x="70.4" y="311" font-size="11.4" text-anchor="middle" fill="#111" class="sb3">0.002</text>
<path d="M109.1,296.8 L109.1,299.4" stroke="#3a3a3a" stroke-width="0.9"/>
<path d="M89.7,296.8 L89.7,298.2" stroke="#3a3a3a" stroke-width="0.8"/>
<text x="109.1" y="311" font-size="11.4" text-anchor="middle" fill="#111" class="sb3">0.004</text>
<path d="M147.7,296.8 L147.7,299.4" stroke="#3a3a3a" stroke-width="0.9"/>
<path d="M128.4,296.8 L128.4,298.2" stroke="#3a3a3a" stroke-width="0.8"/>
<text x="147.7" y="311" font-size="11.4" text-anchor="middle" fill="#111" class="sb3">0.006</text>
<path d="M186.3,296.8 L186.3,299.4" stroke="#3a3a3a" stroke-width="0.9"/>
<path d="M167.0,296.8 L167.0,298.2" stroke="#3a3a3a" stroke-width="0.8"/>
<text x="186.3" y="311" font-size="11.4" text-anchor="middle" fill="#111" class="sb3">0.008</text>
<path d="M225.0,296.8 L225.0,299.4" stroke="#3a3a3a" stroke-width="0.9"/>
<path d="M205.7,296.8 L205.7,298.2" stroke="#3a3a3a" stroke-width="0.8"/>
<text x="225.0" y="311" font-size="11.4" text-anchor="middle" fill="#111" class="sb3">0.010</text>
<path d="M60.6,296.5 L61.5,290.0 L62.8,280.0 L64.2,268.0 L65.2,261.0 L66.2,254.0 L67.0,248.0 L68.0,240.0 L69.0,231.0 L70.0,223.0 L70.8,218.6 L71.6,219.5 L72.4,221.8 L73.2,220.2 L74.0,222.5 L75.0,220.5 L76.0,222.0 L77.0,220.6 L78.0,222.8 L79.0,221.0 L80.0,223.5 L81.0,221.5 L82.0,224.0 L82.3,230.0 L81.8,238.0 L81.2,246.0 L80.7,250.5 L81.3,244.0 L82.3,234.0 L83.2,226.0 L84.2,220.0 L85.5,216.0 L87.0,214.0 L88.5,213.4 L90.5,213.6 L92.5,214.0 L94.0,216.0 L95.0,222.0 L96.0,232.0 L96.8,240.0 L97.3,248.6 L97.9,240.0 L98.6,236.0 L99.0,243.0 L99.6,232.0 L100.4,222.0 L101.2,216.0 L102.0,214.5 L103.0,219.0 L103.8,215.5 L104.6,222.0 L105.4,216.0 L106.5,214.0 L107.5,218.0 L108.5,213.0 L109.5,214.5 L110.5,213.8 L112.0,216.0 L113.5,218.6 L115.0,218.0 L117.0,220.0 L118.5,223.0 L120.0,229.0 L121.0,236.0 L121.8,245.0 L122.4,238.0 L123.0,232.5 L124.2,236.5 L125.4,233.0 L126.5,237.0 L127.7,231.6 L129.0,235.0 L130.0,238.7 L131.2,234.0 L132.5,233.0 L133.6,237.0 L134.8,240.0 L136.0,235.0 L137.0,234.0 L138.2,237.0 L139.5,236.0 L140.6,240.0 L141.4,244.6 L142.2,239.0 L143.0,235.0 L144.5,229.0 L146.6,223.4 L148.5,221.6 L150.0,221.0 L152.0,221.0 L153.7,221.5 L155.0,224.0 L156.0,228.0 L157.3,236.0 L158.5,243.5 L159.6,237.0 L160.8,233.0 L162.0,237.0 L163.0,238.7 L164.2,232.0 L165.5,228.0 L167.2,226.5 L169.0,225.7 L170.3,228.0 L171.5,230.5 L172.7,226.0 L173.8,223.4 L175.6,227.0 L177.4,231.6 L179.0,224.0 L181.0,217.5 L182.2,221.0 L183.3,224.5 L185.5,219.0 L188.0,215.0 L190.0,212.0 L191.5,210.4 L193.2,213.0 L195.0,216.3 L196.6,217.5 L198.0,219.8 L198.8,228.0 L199.4,234.0 L200.2,225.0 L201.0,218.6 L202.8,215.5 L204.5,214.0 L206.3,215.5 L208.0,217.5 L209.4,222.0 L210.5,227.0 L212.2,223.5 L214.0,221.0 L215.2,222.5 L216.4,223.4 L217.6,220.0 L218.7,217.5 L220.0,218.5 L221.0,219.8 L222.0,222.0 L223.0,224.5 L224.0,221.0 L225.0,218.6 L225.8,220.0" fill="none" stroke="#3c3c3c" stroke-width="0.6" stroke-linejoin="round"/>
<text x="96.4" y="325.6" font-size="11.2" fill="#111">Global strain, ε<tspan dy="3" font-size="7.5">x,g</tspan></text>
<text transform="translate(16.3,302.5) rotate(-90)" font-size="11.2" fill="#111">Global stress, σ<tspan dy="3" font-size="7.5">x,g'</tspan><tspan dy="-3" font-size="11.2"> (MPa)</tspan></text>
<text x="7" y="152.7" font-size="12.6" fill="#111" class="sb">(a)</text>
<text x="79.5" y="151" font-size="10.8" fill="#111" class="sb" textLength="98.5" lengthAdjust="spacingAndGlyphs">Type II: Specimen-2</text>
<text x="151.5" y="199.6" font-size="11" fill="#111" class="sb" textLength="73.5" lengthAdjust="spacingAndGlyphs">Image position</text>
<circle cx="139.3" cy="195.6" r="4.3" fill="none" stroke="#e8141c" stroke-width="1.1"/>
<circle cx="65.0" cy="262.8" r="3.4" fill="none" stroke="#e8141c" stroke-width="0.8"/>
<circle cx="66.1" cy="255.0" r="3.4" fill="none" stroke="#e8141c" stroke-width="0.8"/>
<circle cx="66.8" cy="249.0" r="3.4" fill="none" stroke="#e8141c" stroke-width="0.8"/>
<circle cx="71.2" cy="218.3" r="3.4" fill="none" stroke="#e8141c" stroke-width="0.8"/>
<circle cx="62.2" cy="172.3" r="5.7" fill="none" stroke="#e8141c" stroke-width="1"/>
<text x="62.2" y="176.1" font-size="10.5" font-weight="bold" text-anchor="middle" fill="#e8141c" stroke="#e8141c" stroke-width="0.3">4</text>
<circle cx="115.3" cy="255.7" r="5.7" fill="none" stroke="#e8141c" stroke-width="1"/>
<text x="115.3" y="259.4" font-size="10.5" font-weight="bold" text-anchor="middle" fill="#e8141c" stroke="#e8141c" stroke-width="0.3">3</text>
<circle cx="115.3" cy="271.2" r="5.7" fill="none" stroke="#e8141c" stroke-width="1"/>
<text x="115.3" y="274.9" font-size="10.5" font-weight="bold" text-anchor="middle" fill="#e8141c" stroke="#e8141c" stroke-width="0.3">2</text>
<circle cx="115.3" cy="286.6" r="5.7" fill="none" stroke="#e8141c" stroke-width="1"/>
<text x="115.3" y="290.4" font-size="10.5" font-weight="bold" text-anchor="middle" fill="#e8141c" stroke="#e8141c" stroke-width="0.3">1</text>
<text x="71.6" y="175.9" font-size="9.1" fill="#111" class="sb2" textLength="89.5" lengthAdjust="spacingAndGlyphs">(0.00207, 385.8 MPa)</text>
<text x="124.5" y="259.7" font-size="9.1" fill="#111" class="sb2" textLength="89.5" lengthAdjust="spacingAndGlyphs">(0.00185, 362.1 MPa)</text>
<text x="124.5" y="275.2" font-size="9.1" fill="#111" class="sb2" textLength="89.5" lengthAdjust="spacingAndGlyphs">(0.00179, 357.8 MPa)</text>
<text x="124.5" y="290.6" font-size="9.1" fill="#111" class="sb2" textLength="89.5" lengthAdjust="spacingAndGlyphs">(0.00174, 351.3 MPa)</text>
<path d="M71.7,181.6 L71.7,205.4" stroke="#111" stroke-width="0.8"/><path d="M71.7,213.2 L69.6,205.4 L73.8,205.4 Z" fill="#111"/>
<path d="M106.0,254.0 L78.6,251.1" stroke="#111" stroke-width="0.8"/><path d="M70.8,250.3 L78.8,249.0 L78.3,253.2 Z" fill="#111"/>
<path d="M103.5,267.5 L78.0,258.7" stroke="#111" stroke-width="0.8"/><path d="M70.6,256.2 L78.7,256.7 L77.3,260.7 Z" fill="#111"/>
<path d="M106.0,284.5 L76.1,268.8" stroke="#111" stroke-width="0.8"/><path d="M69.2,265.2 L77.1,267.0 L75.1,270.7 Z" fill="#111"/>
</svg></body></html>
